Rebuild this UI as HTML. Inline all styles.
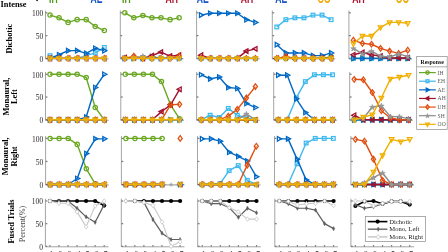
<!DOCTYPE html>
<html><head><meta charset="utf-8"><style>
html,body{margin:0;padding:0;background:#fff;}
body{width:448px;height:252px;overflow:hidden;}
svg{display:block;}
text{font-family:"Liberation Serif","Times New Roman",serif;}
.tk{font-size:7.5px;fill:#2a2a2a;}
.ttl{font-size:8.6px;font-weight:bold;font-family:"Liberation Sans",Arial,sans-serif;}
.rl{font-size:8.4px;font-weight:bold;fill:#000;}
.yl{font-size:8.1px;fill:#444;}
.lt{font-size:5.8px;font-weight:bold;fill:#111;}
.lg{font-size:5.6px;fill:#5a5a5a;}
.l2{font-size:6.6px;fill:#222;}
</style></head><body>
<svg width="448" height="252" viewBox="0 0 448 252">
<path d="M45.5 10.5V58.9H108.7" fill="none" stroke="#9a9a9a" stroke-width="0.9"/>
<path d="M45.5 58.4H47.4" stroke="#808080" stroke-width="1.3"/>
<path d="M45.5 35.6H47.4" stroke="#808080" stroke-width="1.3"/>
<path d="M45.5 12.8H47.4" stroke="#808080" stroke-width="1.3"/>
<text x="43.2" y="61.6" text-anchor="end" class="tk">0</text>
<text x="43.2" y="38.8" text-anchor="end" class="tk">50</text>
<text x="43.2" y="16" text-anchor="end" class="tk">100</text>
<polyline points="50,15.08 59.05,17.82 68.1,22.38 77.15,19.64 86.2,19.64 95.25,26.48 104.3,30.58" fill="none" stroke="#6aa823" stroke-width="1.4" stroke-linejoin="round"/>
<circle cx="50" cy="15.08" r="2.15" fill="none" stroke="#6aa823" stroke-width="1.25"/>
<circle cx="59.05" cy="17.82" r="2.15" fill="none" stroke="#6aa823" stroke-width="1.25"/>
<circle cx="68.1" cy="22.38" r="2.15" fill="none" stroke="#6aa823" stroke-width="1.25"/>
<circle cx="77.15" cy="19.64" r="2.15" fill="none" stroke="#6aa823" stroke-width="1.25"/>
<circle cx="86.2" cy="19.64" r="2.15" fill="none" stroke="#6aa823" stroke-width="1.25"/>
<circle cx="95.25" cy="26.48" r="2.15" fill="none" stroke="#6aa823" stroke-width="1.25"/>
<circle cx="104.3" cy="30.58" r="2.15" fill="none" stroke="#6aa823" stroke-width="1.25"/>
<polyline points="50,55.66 59.05,58.4 68.1,58.4 77.15,58.4 86.2,55.66 95.25,52.93 104.3,47.46" fill="none" stroke="#3fb9ee" stroke-width="1.4" stroke-linejoin="round"/>
<rect x="48.15" y="53.81" width="3.7" height="3.7" fill="none" stroke="#3fb9ee" stroke-width="1.25"/>
<rect x="57.2" y="56.55" width="3.7" height="3.7" fill="none" stroke="#3fb9ee" stroke-width="1.25"/>
<rect x="66.25" y="56.55" width="3.7" height="3.7" fill="none" stroke="#3fb9ee" stroke-width="1.25"/>
<rect x="75.3" y="56.55" width="3.7" height="3.7" fill="none" stroke="#3fb9ee" stroke-width="1.25"/>
<rect x="84.35" y="53.81" width="3.7" height="3.7" fill="none" stroke="#3fb9ee" stroke-width="1.25"/>
<rect x="93.4" y="51.08" width="3.7" height="3.7" fill="none" stroke="#3fb9ee" stroke-width="1.25"/>
<rect x="102.45" y="45.61" width="3.7" height="3.7" fill="none" stroke="#3fb9ee" stroke-width="1.25"/>
<polyline points="50,58.4 59.05,54.75 68.1,50.65 77.15,50.65 86.2,53.38 95.25,48.37 104.3,50.65" fill="none" stroke="#0068c4" stroke-width="1.4" stroke-linejoin="round"/>
<polygon points="48.4,56.1 52.6,58.4 48.4,60.7" fill="none" stroke="#0068c4" stroke-width="1.25"/>
<polygon points="57.45,52.45 61.65,54.75 57.45,57.05" fill="none" stroke="#0068c4" stroke-width="1.25"/>
<polygon points="66.5,48.35 70.7,50.65 66.5,52.95" fill="none" stroke="#0068c4" stroke-width="1.25"/>
<polygon points="75.55,48.35 79.75,50.65 75.55,52.95" fill="none" stroke="#0068c4" stroke-width="1.25"/>
<polygon points="84.6,51.08 88.8,53.38 84.6,55.68" fill="none" stroke="#0068c4" stroke-width="1.25"/>
<polygon points="93.65,46.07 97.85,48.37 93.65,50.67" fill="none" stroke="#0068c4" stroke-width="1.25"/>
<polygon points="102.7,48.35 106.9,50.65 102.7,52.95" fill="none" stroke="#0068c4" stroke-width="1.25"/>
<polyline points="50,58.4 59.05,58.4 68.1,58.4 77.15,58.4 86.2,58.4 95.25,58.4 104.3,58.4" fill="none" stroke="#a20f2c" stroke-width="1.4" stroke-linejoin="round"/>
<polygon points="51.6,56.1 47.4,58.4 51.6,60.7" fill="none" stroke="#a20f2c" stroke-width="1.25"/>
<polygon points="60.65,56.1 56.45,58.4 60.65,60.7" fill="none" stroke="#a20f2c" stroke-width="1.25"/>
<polygon points="69.7,56.1 65.5,58.4 69.7,60.7" fill="none" stroke="#a20f2c" stroke-width="1.25"/>
<polygon points="78.75,56.1 74.55,58.4 78.75,60.7" fill="none" stroke="#a20f2c" stroke-width="1.25"/>
<polygon points="87.8,56.1 83.6,58.4 87.8,60.7" fill="none" stroke="#a20f2c" stroke-width="1.25"/>
<polygon points="96.85,56.1 92.65,58.4 96.85,60.7" fill="none" stroke="#a20f2c" stroke-width="1.25"/>
<polygon points="105.9,56.1 101.7,58.4 105.9,60.7" fill="none" stroke="#a20f2c" stroke-width="1.25"/>
<polyline points="50,58.4 59.05,58.4 68.1,58.4 77.15,58.4 86.2,58.4 95.25,58.4 104.3,58.4" fill="none" stroke="#e04f10" stroke-width="1.4" stroke-linejoin="round"/>
<polygon points="50,55.6 52.1,58.4 50,61.2 47.9,58.4" fill="none" stroke="#e04f10" stroke-width="1.25"/>
<polygon points="59.05,55.6 61.15,58.4 59.05,61.2 56.95,58.4" fill="none" stroke="#e04f10" stroke-width="1.25"/>
<polygon points="68.1,55.6 70.2,58.4 68.1,61.2 66,58.4" fill="none" stroke="#e04f10" stroke-width="1.25"/>
<polygon points="77.15,55.6 79.25,58.4 77.15,61.2 75.05,58.4" fill="none" stroke="#e04f10" stroke-width="1.25"/>
<polygon points="86.2,55.6 88.3,58.4 86.2,61.2 84.1,58.4" fill="none" stroke="#e04f10" stroke-width="1.25"/>
<polygon points="95.25,55.6 97.35,58.4 95.25,61.2 93.15,58.4" fill="none" stroke="#e04f10" stroke-width="1.25"/>
<polygon points="104.3,55.6 106.4,58.4 104.3,61.2 102.2,58.4" fill="none" stroke="#e04f10" stroke-width="1.25"/>
<polyline points="50,58.4 59.05,58.4 68.1,58.4 77.15,58.4 86.2,58.4 95.25,58.4 104.3,58.4" fill="none" stroke="#8c8c8c" stroke-width="1.4" stroke-linejoin="round"/>
<polygon points="50,55.8 50.73,57.69 52.76,57.8 51.19,59.09 51.7,61.05 50,59.95 48.3,61.05 48.81,59.09 47.24,57.8 49.27,57.69" fill="#9a9a9a" stroke="#8c8c8c" stroke-width="0.5"/>
<polygon points="59.05,55.8 59.78,57.69 61.81,57.8 60.24,59.09 60.75,61.05 59.05,59.95 57.35,61.05 57.86,59.09 56.29,57.8 58.32,57.69" fill="#9a9a9a" stroke="#8c8c8c" stroke-width="0.5"/>
<polygon points="68.1,55.8 68.83,57.69 70.86,57.8 69.29,59.09 69.8,61.05 68.1,59.95 66.4,61.05 66.91,59.09 65.34,57.8 67.37,57.69" fill="#9a9a9a" stroke="#8c8c8c" stroke-width="0.5"/>
<polygon points="77.15,55.8 77.88,57.69 79.91,57.8 78.34,59.09 78.85,61.05 77.15,59.95 75.45,61.05 75.96,59.09 74.39,57.8 76.42,57.69" fill="#9a9a9a" stroke="#8c8c8c" stroke-width="0.5"/>
<polygon points="86.2,55.8 86.93,57.69 88.96,57.8 87.39,59.09 87.9,61.05 86.2,59.95 84.5,61.05 85.01,59.09 83.44,57.8 85.47,57.69" fill="#9a9a9a" stroke="#8c8c8c" stroke-width="0.5"/>
<polygon points="95.25,55.8 95.98,57.69 98.01,57.8 96.44,59.09 96.95,61.05 95.25,59.95 93.55,61.05 94.06,59.09 92.49,57.8 94.52,57.69" fill="#9a9a9a" stroke="#8c8c8c" stroke-width="0.5"/>
<polygon points="104.3,55.8 105.03,57.69 107.06,57.8 105.49,59.09 106,61.05 104.3,59.95 102.6,61.05 103.11,59.09 101.54,57.8 103.57,57.69" fill="#9a9a9a" stroke="#8c8c8c" stroke-width="0.5"/>
<polyline points="50,58.4 59.05,58.4 68.1,58.4 77.15,58.4 86.2,58.4 95.25,58.4 104.3,58.4" fill="none" stroke="#f0b000" stroke-width="1.4" stroke-linejoin="round"/>
<polygon points="47.7,56.8 52.3,56.8 50,61" fill="none" stroke="#f0b000" stroke-width="1.25"/>
<polygon points="56.75,56.8 61.35,56.8 59.05,61" fill="none" stroke="#f0b000" stroke-width="1.25"/>
<polygon points="65.8,56.8 70.4,56.8 68.1,61" fill="none" stroke="#f0b000" stroke-width="1.25"/>
<polygon points="74.85,56.8 79.45,56.8 77.15,61" fill="none" stroke="#f0b000" stroke-width="1.25"/>
<polygon points="83.9,56.8 88.5,56.8 86.2,61" fill="none" stroke="#f0b000" stroke-width="1.25"/>
<polygon points="92.95,56.8 97.55,56.8 95.25,61" fill="none" stroke="#f0b000" stroke-width="1.25"/>
<polygon points="102,56.8 106.6,56.8 104.3,61" fill="none" stroke="#f0b000" stroke-width="1.25"/>
<path d="M120.3 10.5V58.9H183.5" fill="none" stroke="#9a9a9a" stroke-width="0.9"/>
<path d="M120.3 58.4H122.2" stroke="#808080" stroke-width="1.3"/>
<path d="M120.3 35.6H122.2" stroke="#808080" stroke-width="1.3"/>
<path d="M120.3 12.8H122.2" stroke="#808080" stroke-width="1.3"/>
<polyline points="124.8,12.8 133.85,17.82 142.9,15.54 151.95,17.82 161,17.82 170.05,19.64 179.1,17.82" fill="none" stroke="#6aa823" stroke-width="1.4" stroke-linejoin="round"/>
<circle cx="124.8" cy="12.8" r="2.15" fill="none" stroke="#6aa823" stroke-width="1.25"/>
<circle cx="133.85" cy="17.82" r="2.15" fill="none" stroke="#6aa823" stroke-width="1.25"/>
<circle cx="142.9" cy="15.54" r="2.15" fill="none" stroke="#6aa823" stroke-width="1.25"/>
<circle cx="151.95" cy="17.82" r="2.15" fill="none" stroke="#6aa823" stroke-width="1.25"/>
<circle cx="161" cy="17.82" r="2.15" fill="none" stroke="#6aa823" stroke-width="1.25"/>
<circle cx="170.05" cy="19.64" r="2.15" fill="none" stroke="#6aa823" stroke-width="1.25"/>
<circle cx="179.1" cy="17.82" r="2.15" fill="none" stroke="#6aa823" stroke-width="1.25"/>
<polyline points="124.8,58.4 133.85,58.4 142.9,58.4 151.95,58.4 161,58.4 170.05,57.03 179.1,58.4" fill="none" stroke="#3fb9ee" stroke-width="1.4" stroke-linejoin="round"/>
<rect x="122.95" y="56.55" width="3.7" height="3.7" fill="none" stroke="#3fb9ee" stroke-width="1.25"/>
<rect x="132" y="56.55" width="3.7" height="3.7" fill="none" stroke="#3fb9ee" stroke-width="1.25"/>
<rect x="141.05" y="56.55" width="3.7" height="3.7" fill="none" stroke="#3fb9ee" stroke-width="1.25"/>
<rect x="150.1" y="56.55" width="3.7" height="3.7" fill="none" stroke="#3fb9ee" stroke-width="1.25"/>
<rect x="159.15" y="56.55" width="3.7" height="3.7" fill="none" stroke="#3fb9ee" stroke-width="1.25"/>
<rect x="168.2" y="55.18" width="3.7" height="3.7" fill="none" stroke="#3fb9ee" stroke-width="1.25"/>
<rect x="177.25" y="56.55" width="3.7" height="3.7" fill="none" stroke="#3fb9ee" stroke-width="1.25"/>
<polyline points="124.8,58.4 133.85,58.4 142.9,58.4 151.95,56.58 161,58.4 170.05,58.4 179.1,58.4" fill="none" stroke="#0068c4" stroke-width="1.4" stroke-linejoin="round"/>
<polygon points="123.2,56.1 127.4,58.4 123.2,60.7" fill="none" stroke="#0068c4" stroke-width="1.25"/>
<polygon points="132.25,56.1 136.45,58.4 132.25,60.7" fill="none" stroke="#0068c4" stroke-width="1.25"/>
<polygon points="141.3,56.1 145.5,58.4 141.3,60.7" fill="none" stroke="#0068c4" stroke-width="1.25"/>
<polygon points="150.35,54.28 154.55,56.58 150.35,58.88" fill="none" stroke="#0068c4" stroke-width="1.25"/>
<polygon points="159.4,56.1 163.6,58.4 159.4,60.7" fill="none" stroke="#0068c4" stroke-width="1.25"/>
<polygon points="168.45,56.1 172.65,58.4 168.45,60.7" fill="none" stroke="#0068c4" stroke-width="1.25"/>
<polygon points="177.5,56.1 181.7,58.4 177.5,60.7" fill="none" stroke="#0068c4" stroke-width="1.25"/>
<polyline points="124.8,57.49 133.85,57.94 142.9,58.4 151.95,55.66 161,52.02 170.05,56.12 179.1,55.21" fill="none" stroke="#a20f2c" stroke-width="1.4" stroke-linejoin="round"/>
<polygon points="126.4,55.19 122.2,57.49 126.4,59.79" fill="none" stroke="#a20f2c" stroke-width="1.25"/>
<polygon points="135.45,55.64 131.25,57.94 135.45,60.24" fill="none" stroke="#a20f2c" stroke-width="1.25"/>
<polygon points="144.5,56.1 140.3,58.4 144.5,60.7" fill="none" stroke="#a20f2c" stroke-width="1.25"/>
<polygon points="153.55,53.36 149.35,55.66 153.55,57.96" fill="none" stroke="#a20f2c" stroke-width="1.25"/>
<polygon points="162.6,49.72 158.4,52.02 162.6,54.32" fill="none" stroke="#a20f2c" stroke-width="1.25"/>
<polygon points="171.65,53.82 167.45,56.12 171.65,58.42" fill="none" stroke="#a20f2c" stroke-width="1.25"/>
<polygon points="180.7,52.91 176.5,55.21 180.7,57.51" fill="none" stroke="#a20f2c" stroke-width="1.25"/>
<polyline points="124.8,58.4 133.85,56.12 142.9,58.4 151.95,58.4 161,58.4 170.05,58.4 179.1,56.12" fill="none" stroke="#e04f10" stroke-width="1.4" stroke-linejoin="round"/>
<polygon points="124.8,55.6 126.9,58.4 124.8,61.2 122.7,58.4" fill="none" stroke="#e04f10" stroke-width="1.25"/>
<polygon points="133.85,53.32 135.95,56.12 133.85,58.92 131.75,56.12" fill="none" stroke="#e04f10" stroke-width="1.25"/>
<polygon points="142.9,55.6 145,58.4 142.9,61.2 140.8,58.4" fill="none" stroke="#e04f10" stroke-width="1.25"/>
<polygon points="151.95,55.6 154.05,58.4 151.95,61.2 149.85,58.4" fill="none" stroke="#e04f10" stroke-width="1.25"/>
<polygon points="161,55.6 163.1,58.4 161,61.2 158.9,58.4" fill="none" stroke="#e04f10" stroke-width="1.25"/>
<polygon points="170.05,55.6 172.15,58.4 170.05,61.2 167.95,58.4" fill="none" stroke="#e04f10" stroke-width="1.25"/>
<polygon points="179.1,53.32 181.2,56.12 179.1,58.92 177,56.12" fill="none" stroke="#e04f10" stroke-width="1.25"/>
<polyline points="124.8,58.4 133.85,58.4 142.9,56.12 151.95,58.4 161,58.4 170.05,58.4 179.1,58.4" fill="none" stroke="#8c8c8c" stroke-width="1.4" stroke-linejoin="round"/>
<polygon points="124.8,55.8 125.53,57.69 127.56,57.8 125.99,59.09 126.5,61.05 124.8,59.95 123.1,61.05 123.61,59.09 122.04,57.8 124.07,57.69" fill="#9a9a9a" stroke="#8c8c8c" stroke-width="0.5"/>
<polygon points="133.85,55.8 134.58,57.69 136.61,57.8 135.04,59.09 135.55,61.05 133.85,59.95 132.15,61.05 132.66,59.09 131.09,57.8 133.12,57.69" fill="#9a9a9a" stroke="#8c8c8c" stroke-width="0.5"/>
<polygon points="142.9,53.52 143.63,55.41 145.66,55.52 144.09,56.81 144.6,58.77 142.9,57.67 141.2,58.77 141.71,56.81 140.14,55.52 142.17,55.41" fill="#9a9a9a" stroke="#8c8c8c" stroke-width="0.5"/>
<polygon points="151.95,55.8 152.68,57.69 154.71,57.8 153.14,59.09 153.65,61.05 151.95,59.95 150.25,61.05 150.76,59.09 149.19,57.8 151.22,57.69" fill="#9a9a9a" stroke="#8c8c8c" stroke-width="0.5"/>
<polygon points="161,55.8 161.73,57.69 163.76,57.8 162.19,59.09 162.7,61.05 161,59.95 159.3,61.05 159.81,59.09 158.24,57.8 160.27,57.69" fill="#9a9a9a" stroke="#8c8c8c" stroke-width="0.5"/>
<polygon points="170.05,55.8 170.78,57.69 172.81,57.8 171.24,59.09 171.75,61.05 170.05,59.95 168.35,61.05 168.86,59.09 167.29,57.8 169.32,57.69" fill="#9a9a9a" stroke="#8c8c8c" stroke-width="0.5"/>
<polygon points="179.1,55.8 179.83,57.69 181.86,57.8 180.29,59.09 180.8,61.05 179.1,59.95 177.4,61.05 177.91,59.09 176.34,57.8 178.37,57.69" fill="#9a9a9a" stroke="#8c8c8c" stroke-width="0.5"/>
<polyline points="124.8,58.4 133.85,58.4 142.9,58.4 151.95,58.4 161,58.4 170.05,58.4 179.1,58.4" fill="none" stroke="#f0b000" stroke-width="1.4" stroke-linejoin="round"/>
<polygon points="122.5,56.8 127.1,56.8 124.8,61" fill="none" stroke="#f0b000" stroke-width="1.25"/>
<polygon points="131.55,56.8 136.15,56.8 133.85,61" fill="none" stroke="#f0b000" stroke-width="1.25"/>
<polygon points="140.6,56.8 145.2,56.8 142.9,61" fill="none" stroke="#f0b000" stroke-width="1.25"/>
<polygon points="149.65,56.8 154.25,56.8 151.95,61" fill="none" stroke="#f0b000" stroke-width="1.25"/>
<polygon points="158.7,56.8 163.3,56.8 161,61" fill="none" stroke="#f0b000" stroke-width="1.25"/>
<polygon points="167.75,56.8 172.35,56.8 170.05,61" fill="none" stroke="#f0b000" stroke-width="1.25"/>
<polygon points="176.8,56.8 181.4,56.8 179.1,61" fill="none" stroke="#f0b000" stroke-width="1.25"/>
<path d="M196.6 10.5V58.9H259.8" fill="none" stroke="#9a9a9a" stroke-width="0.9"/>
<path d="M196.6 58.4H198.5" stroke="#808080" stroke-width="1.3"/>
<path d="M196.6 35.6H198.5" stroke="#808080" stroke-width="1.3"/>
<path d="M196.6 12.8H198.5" stroke="#808080" stroke-width="1.3"/>
<polyline points="201.1,58.4 210.15,58.4 219.2,58.4 228.25,58.4 237.3,58.4 246.35,58.4 255.4,58.4" fill="none" stroke="#6aa823" stroke-width="1.4" stroke-linejoin="round"/>
<circle cx="201.1" cy="58.4" r="2.15" fill="none" stroke="#6aa823" stroke-width="1.25"/>
<circle cx="210.15" cy="58.4" r="2.15" fill="none" stroke="#6aa823" stroke-width="1.25"/>
<circle cx="219.2" cy="58.4" r="2.15" fill="none" stroke="#6aa823" stroke-width="1.25"/>
<circle cx="228.25" cy="58.4" r="2.15" fill="none" stroke="#6aa823" stroke-width="1.25"/>
<circle cx="237.3" cy="58.4" r="2.15" fill="none" stroke="#6aa823" stroke-width="1.25"/>
<circle cx="246.35" cy="58.4" r="2.15" fill="none" stroke="#6aa823" stroke-width="1.25"/>
<circle cx="255.4" cy="58.4" r="2.15" fill="none" stroke="#6aa823" stroke-width="1.25"/>
<polyline points="201.1,58.4 210.15,58.4 219.2,58.4 228.25,58.4 237.3,58.4 246.35,58.4 255.4,58.4" fill="none" stroke="#3fb9ee" stroke-width="1.4" stroke-linejoin="round"/>
<rect x="199.25" y="56.55" width="3.7" height="3.7" fill="none" stroke="#3fb9ee" stroke-width="1.25"/>
<rect x="208.3" y="56.55" width="3.7" height="3.7" fill="none" stroke="#3fb9ee" stroke-width="1.25"/>
<rect x="217.35" y="56.55" width="3.7" height="3.7" fill="none" stroke="#3fb9ee" stroke-width="1.25"/>
<rect x="226.4" y="56.55" width="3.7" height="3.7" fill="none" stroke="#3fb9ee" stroke-width="1.25"/>
<rect x="235.45" y="56.55" width="3.7" height="3.7" fill="none" stroke="#3fb9ee" stroke-width="1.25"/>
<rect x="244.5" y="56.55" width="3.7" height="3.7" fill="none" stroke="#3fb9ee" stroke-width="1.25"/>
<rect x="253.55" y="56.55" width="3.7" height="3.7" fill="none" stroke="#3fb9ee" stroke-width="1.25"/>
<polyline points="201.1,15.08 210.15,13.26 219.2,13.26 228.25,13.26 237.3,13.26 246.35,19.64 255.4,22.38" fill="none" stroke="#0068c4" stroke-width="1.4" stroke-linejoin="round"/>
<polygon points="199.5,12.78 203.7,15.08 199.5,17.38" fill="none" stroke="#0068c4" stroke-width="1.25"/>
<polygon points="208.55,10.96 212.75,13.26 208.55,15.56" fill="none" stroke="#0068c4" stroke-width="1.25"/>
<polygon points="217.6,10.96 221.8,13.26 217.6,15.56" fill="none" stroke="#0068c4" stroke-width="1.25"/>
<polygon points="226.65,10.96 230.85,13.26 226.65,15.56" fill="none" stroke="#0068c4" stroke-width="1.25"/>
<polygon points="235.7,10.96 239.9,13.26 235.7,15.56" fill="none" stroke="#0068c4" stroke-width="1.25"/>
<polygon points="244.75,17.34 248.95,19.64 244.75,21.94" fill="none" stroke="#0068c4" stroke-width="1.25"/>
<polygon points="253.8,20.08 258,22.38 253.8,24.68" fill="none" stroke="#0068c4" stroke-width="1.25"/>
<polyline points="201.1,55.21 210.15,58.4 219.2,58.4 228.25,58.4 237.3,58.4 246.35,51.1 255.4,48.82" fill="none" stroke="#a20f2c" stroke-width="1.4" stroke-linejoin="round"/>
<polygon points="202.7,52.91 198.5,55.21 202.7,57.51" fill="none" stroke="#a20f2c" stroke-width="1.25"/>
<polygon points="211.75,56.1 207.55,58.4 211.75,60.7" fill="none" stroke="#a20f2c" stroke-width="1.25"/>
<polygon points="220.8,56.1 216.6,58.4 220.8,60.7" fill="none" stroke="#a20f2c" stroke-width="1.25"/>
<polygon points="229.85,56.1 225.65,58.4 229.85,60.7" fill="none" stroke="#a20f2c" stroke-width="1.25"/>
<polygon points="238.9,56.1 234.7,58.4 238.9,60.7" fill="none" stroke="#a20f2c" stroke-width="1.25"/>
<polygon points="247.95,48.8 243.75,51.1 247.95,53.4" fill="none" stroke="#a20f2c" stroke-width="1.25"/>
<polygon points="257,46.52 252.8,48.82 257,51.12" fill="none" stroke="#a20f2c" stroke-width="1.25"/>
<polyline points="201.1,58.4 210.15,58.4 219.2,58.4 228.25,58.4 237.3,58.4 246.35,58.4 255.4,58.4" fill="none" stroke="#e04f10" stroke-width="1.4" stroke-linejoin="round"/>
<polygon points="201.1,55.6 203.2,58.4 201.1,61.2 199,58.4" fill="none" stroke="#e04f10" stroke-width="1.25"/>
<polygon points="210.15,55.6 212.25,58.4 210.15,61.2 208.05,58.4" fill="none" stroke="#e04f10" stroke-width="1.25"/>
<polygon points="219.2,55.6 221.3,58.4 219.2,61.2 217.1,58.4" fill="none" stroke="#e04f10" stroke-width="1.25"/>
<polygon points="228.25,55.6 230.35,58.4 228.25,61.2 226.15,58.4" fill="none" stroke="#e04f10" stroke-width="1.25"/>
<polygon points="237.3,55.6 239.4,58.4 237.3,61.2 235.2,58.4" fill="none" stroke="#e04f10" stroke-width="1.25"/>
<polygon points="246.35,55.6 248.45,58.4 246.35,61.2 244.25,58.4" fill="none" stroke="#e04f10" stroke-width="1.25"/>
<polygon points="255.4,55.6 257.5,58.4 255.4,61.2 253.3,58.4" fill="none" stroke="#e04f10" stroke-width="1.25"/>
<polyline points="201.1,58.4 210.15,58.4 219.2,58.4 228.25,58.4 237.3,58.4 246.35,58.4 255.4,58.4" fill="none" stroke="#8c8c8c" stroke-width="1.4" stroke-linejoin="round"/>
<polygon points="201.1,55.8 201.83,57.69 203.86,57.8 202.29,59.09 202.8,61.05 201.1,59.95 199.4,61.05 199.91,59.09 198.34,57.8 200.37,57.69" fill="#9a9a9a" stroke="#8c8c8c" stroke-width="0.5"/>
<polygon points="210.15,55.8 210.88,57.69 212.91,57.8 211.34,59.09 211.85,61.05 210.15,59.95 208.45,61.05 208.96,59.09 207.39,57.8 209.42,57.69" fill="#9a9a9a" stroke="#8c8c8c" stroke-width="0.5"/>
<polygon points="219.2,55.8 219.93,57.69 221.96,57.8 220.39,59.09 220.9,61.05 219.2,59.95 217.5,61.05 218.01,59.09 216.44,57.8 218.47,57.69" fill="#9a9a9a" stroke="#8c8c8c" stroke-width="0.5"/>
<polygon points="228.25,55.8 228.98,57.69 231.01,57.8 229.44,59.09 229.95,61.05 228.25,59.95 226.55,61.05 227.06,59.09 225.49,57.8 227.52,57.69" fill="#9a9a9a" stroke="#8c8c8c" stroke-width="0.5"/>
<polygon points="237.3,55.8 238.03,57.69 240.06,57.8 238.49,59.09 239,61.05 237.3,59.95 235.6,61.05 236.11,59.09 234.54,57.8 236.57,57.69" fill="#9a9a9a" stroke="#8c8c8c" stroke-width="0.5"/>
<polygon points="246.35,55.8 247.08,57.69 249.11,57.8 247.54,59.09 248.05,61.05 246.35,59.95 244.65,61.05 245.16,59.09 243.59,57.8 245.62,57.69" fill="#9a9a9a" stroke="#8c8c8c" stroke-width="0.5"/>
<polygon points="255.4,55.8 256.13,57.69 258.16,57.8 256.59,59.09 257.1,61.05 255.4,59.95 253.7,61.05 254.21,59.09 252.64,57.8 254.67,57.69" fill="#9a9a9a" stroke="#8c8c8c" stroke-width="0.5"/>
<polyline points="201.1,58.4 210.15,58.4 219.2,58.4 228.25,58.4 237.3,58.4 246.35,58.4 255.4,58.4" fill="none" stroke="#f0b000" stroke-width="1.4" stroke-linejoin="round"/>
<polygon points="198.8,56.8 203.4,56.8 201.1,61" fill="none" stroke="#f0b000" stroke-width="1.25"/>
<polygon points="207.85,56.8 212.45,56.8 210.15,61" fill="none" stroke="#f0b000" stroke-width="1.25"/>
<polygon points="216.9,56.8 221.5,56.8 219.2,61" fill="none" stroke="#f0b000" stroke-width="1.25"/>
<polygon points="225.95,56.8 230.55,56.8 228.25,61" fill="none" stroke="#f0b000" stroke-width="1.25"/>
<polygon points="235,56.8 239.6,56.8 237.3,61" fill="none" stroke="#f0b000" stroke-width="1.25"/>
<polygon points="244.05,56.8 248.65,56.8 246.35,61" fill="none" stroke="#f0b000" stroke-width="1.25"/>
<polygon points="253.1,56.8 257.7,56.8 255.4,61" fill="none" stroke="#f0b000" stroke-width="1.25"/>
<path d="M272.3 10.5V58.9H335.5" fill="none" stroke="#9a9a9a" stroke-width="0.9"/>
<path d="M272.3 58.4H274.2" stroke="#808080" stroke-width="1.3"/>
<path d="M272.3 35.6H274.2" stroke="#808080" stroke-width="1.3"/>
<path d="M272.3 12.8H274.2" stroke="#808080" stroke-width="1.3"/>
<polyline points="276.8,58.4 285.85,58.4 294.9,58.4 303.95,58.4 313,58.4 322.05,58.4 331.1,56.58" fill="none" stroke="#6aa823" stroke-width="1.4" stroke-linejoin="round"/>
<circle cx="276.8" cy="58.4" r="2.15" fill="none" stroke="#6aa823" stroke-width="1.25"/>
<circle cx="285.85" cy="58.4" r="2.15" fill="none" stroke="#6aa823" stroke-width="1.25"/>
<circle cx="294.9" cy="58.4" r="2.15" fill="none" stroke="#6aa823" stroke-width="1.25"/>
<circle cx="303.95" cy="58.4" r="2.15" fill="none" stroke="#6aa823" stroke-width="1.25"/>
<circle cx="313" cy="58.4" r="2.15" fill="none" stroke="#6aa823" stroke-width="1.25"/>
<circle cx="322.05" cy="58.4" r="2.15" fill="none" stroke="#6aa823" stroke-width="1.25"/>
<circle cx="331.1" cy="56.58" r="2.15" fill="none" stroke="#6aa823" stroke-width="1.25"/>
<polyline points="276.8,26.94 285.85,19.64 294.9,17.82 303.95,17.82 313,15.08 322.05,15.08 331.1,19.64" fill="none" stroke="#3fb9ee" stroke-width="1.4" stroke-linejoin="round"/>
<rect x="274.95" y="25.09" width="3.7" height="3.7" fill="none" stroke="#3fb9ee" stroke-width="1.25"/>
<rect x="284" y="17.79" width="3.7" height="3.7" fill="none" stroke="#3fb9ee" stroke-width="1.25"/>
<rect x="293.05" y="15.97" width="3.7" height="3.7" fill="none" stroke="#3fb9ee" stroke-width="1.25"/>
<rect x="302.1" y="15.97" width="3.7" height="3.7" fill="none" stroke="#3fb9ee" stroke-width="1.25"/>
<rect x="311.15" y="13.23" width="3.7" height="3.7" fill="none" stroke="#3fb9ee" stroke-width="1.25"/>
<rect x="320.2" y="13.23" width="3.7" height="3.7" fill="none" stroke="#3fb9ee" stroke-width="1.25"/>
<rect x="329.25" y="17.79" width="3.7" height="3.7" fill="none" stroke="#3fb9ee" stroke-width="1.25"/>
<polyline points="276.8,44.72 285.85,52.93 294.9,52.93 303.95,52.93 313,55.66 322.05,55.66 331.1,52.93" fill="none" stroke="#0068c4" stroke-width="1.4" stroke-linejoin="round"/>
<polygon points="275.2,42.42 279.4,44.72 275.2,47.02" fill="none" stroke="#0068c4" stroke-width="1.25"/>
<polygon points="284.25,50.63 288.45,52.93 284.25,55.23" fill="none" stroke="#0068c4" stroke-width="1.25"/>
<polygon points="293.3,50.63 297.5,52.93 293.3,55.23" fill="none" stroke="#0068c4" stroke-width="1.25"/>
<polygon points="302.35,50.63 306.55,52.93 302.35,55.23" fill="none" stroke="#0068c4" stroke-width="1.25"/>
<polygon points="311.4,53.36 315.6,55.66 311.4,57.96" fill="none" stroke="#0068c4" stroke-width="1.25"/>
<polygon points="320.45,53.36 324.65,55.66 320.45,57.96" fill="none" stroke="#0068c4" stroke-width="1.25"/>
<polygon points="329.5,50.63 333.7,52.93 329.5,55.23" fill="none" stroke="#0068c4" stroke-width="1.25"/>
<polyline points="276.8,58.4 285.85,57.03 294.9,58.4 303.95,58.4 313,58.4 322.05,58.4 331.1,58.4" fill="none" stroke="#a20f2c" stroke-width="1.4" stroke-linejoin="round"/>
<polygon points="278.4,56.1 274.2,58.4 278.4,60.7" fill="none" stroke="#a20f2c" stroke-width="1.25"/>
<polygon points="287.45,54.73 283.25,57.03 287.45,59.33" fill="none" stroke="#a20f2c" stroke-width="1.25"/>
<polygon points="296.5,56.1 292.3,58.4 296.5,60.7" fill="none" stroke="#a20f2c" stroke-width="1.25"/>
<polygon points="305.55,56.1 301.35,58.4 305.55,60.7" fill="none" stroke="#a20f2c" stroke-width="1.25"/>
<polygon points="314.6,56.1 310.4,58.4 314.6,60.7" fill="none" stroke="#a20f2c" stroke-width="1.25"/>
<polygon points="323.65,56.1 319.45,58.4 323.65,60.7" fill="none" stroke="#a20f2c" stroke-width="1.25"/>
<polygon points="332.7,56.1 328.5,58.4 332.7,60.7" fill="none" stroke="#a20f2c" stroke-width="1.25"/>
<polyline points="276.8,58.4 285.85,56.58 294.9,58.4 303.95,58.4 313,58.4 322.05,58.4 331.1,58.4" fill="none" stroke="#e04f10" stroke-width="1.4" stroke-linejoin="round"/>
<polygon points="276.8,55.6 278.9,58.4 276.8,61.2 274.7,58.4" fill="none" stroke="#e04f10" stroke-width="1.25"/>
<polygon points="285.85,53.78 287.95,56.58 285.85,59.38 283.75,56.58" fill="none" stroke="#e04f10" stroke-width="1.25"/>
<polygon points="294.9,55.6 297,58.4 294.9,61.2 292.8,58.4" fill="none" stroke="#e04f10" stroke-width="1.25"/>
<polygon points="303.95,55.6 306.05,58.4 303.95,61.2 301.85,58.4" fill="none" stroke="#e04f10" stroke-width="1.25"/>
<polygon points="313,55.6 315.1,58.4 313,61.2 310.9,58.4" fill="none" stroke="#e04f10" stroke-width="1.25"/>
<polygon points="322.05,55.6 324.15,58.4 322.05,61.2 319.95,58.4" fill="none" stroke="#e04f10" stroke-width="1.25"/>
<polygon points="331.1,55.6 333.2,58.4 331.1,61.2 329,58.4" fill="none" stroke="#e04f10" stroke-width="1.25"/>
<polyline points="276.8,58.4 285.85,58.4 294.9,58.4 303.95,58.4 313,58.4 322.05,58.4 331.1,58.4" fill="none" stroke="#8c8c8c" stroke-width="1.4" stroke-linejoin="round"/>
<polygon points="276.8,55.8 277.53,57.69 279.56,57.8 277.99,59.09 278.5,61.05 276.8,59.95 275.1,61.05 275.61,59.09 274.04,57.8 276.07,57.69" fill="#9a9a9a" stroke="#8c8c8c" stroke-width="0.5"/>
<polygon points="285.85,55.8 286.58,57.69 288.61,57.8 287.04,59.09 287.55,61.05 285.85,59.95 284.15,61.05 284.66,59.09 283.09,57.8 285.12,57.69" fill="#9a9a9a" stroke="#8c8c8c" stroke-width="0.5"/>
<polygon points="294.9,55.8 295.63,57.69 297.66,57.8 296.09,59.09 296.6,61.05 294.9,59.95 293.2,61.05 293.71,59.09 292.14,57.8 294.17,57.69" fill="#9a9a9a" stroke="#8c8c8c" stroke-width="0.5"/>
<polygon points="303.95,55.8 304.68,57.69 306.71,57.8 305.14,59.09 305.65,61.05 303.95,59.95 302.25,61.05 302.76,59.09 301.19,57.8 303.22,57.69" fill="#9a9a9a" stroke="#8c8c8c" stroke-width="0.5"/>
<polygon points="313,55.8 313.73,57.69 315.76,57.8 314.19,59.09 314.7,61.05 313,59.95 311.3,61.05 311.81,59.09 310.24,57.8 312.27,57.69" fill="#9a9a9a" stroke="#8c8c8c" stroke-width="0.5"/>
<polygon points="322.05,55.8 322.78,57.69 324.81,57.8 323.24,59.09 323.75,61.05 322.05,59.95 320.35,61.05 320.86,59.09 319.29,57.8 321.32,57.69" fill="#9a9a9a" stroke="#8c8c8c" stroke-width="0.5"/>
<polygon points="331.1,55.8 331.83,57.69 333.86,57.8 332.29,59.09 332.8,61.05 331.1,59.95 329.4,61.05 329.91,59.09 328.34,57.8 330.37,57.69" fill="#9a9a9a" stroke="#8c8c8c" stroke-width="0.5"/>
<polyline points="276.8,58.4 285.85,58.4 294.9,58.4 303.95,58.4 313,58.4 322.05,58.4 331.1,58.4" fill="none" stroke="#f0b000" stroke-width="1.4" stroke-linejoin="round"/>
<polygon points="274.5,56.8 279.1,56.8 276.8,61" fill="none" stroke="#f0b000" stroke-width="1.25"/>
<polygon points="283.55,56.8 288.15,56.8 285.85,61" fill="none" stroke="#f0b000" stroke-width="1.25"/>
<polygon points="292.6,56.8 297.2,56.8 294.9,61" fill="none" stroke="#f0b000" stroke-width="1.25"/>
<polygon points="301.65,56.8 306.25,56.8 303.95,61" fill="none" stroke="#f0b000" stroke-width="1.25"/>
<polygon points="310.7,56.8 315.3,56.8 313,61" fill="none" stroke="#f0b000" stroke-width="1.25"/>
<polygon points="319.75,56.8 324.35,56.8 322.05,61" fill="none" stroke="#f0b000" stroke-width="1.25"/>
<polygon points="328.8,56.8 333.4,56.8 331.1,61" fill="none" stroke="#f0b000" stroke-width="1.25"/>
<path d="M348.9 10.5V58.9H412.1" fill="none" stroke="#9a9a9a" stroke-width="0.9"/>
<path d="M348.9 58.4H350.8" stroke="#808080" stroke-width="1.3"/>
<path d="M348.9 35.6H350.8" stroke="#808080" stroke-width="1.3"/>
<path d="M348.9 12.8H350.8" stroke="#808080" stroke-width="1.3"/>
<polyline points="353.4,58.4 362.45,58.4 371.5,58.4 380.55,58.4 389.6,58.4 398.65,58.4 407.7,58.4" fill="none" stroke="#6aa823" stroke-width="1.4" stroke-linejoin="round"/>
<circle cx="353.4" cy="58.4" r="2.15" fill="none" stroke="#6aa823" stroke-width="1.25"/>
<circle cx="362.45" cy="58.4" r="2.15" fill="none" stroke="#6aa823" stroke-width="1.25"/>
<circle cx="371.5" cy="58.4" r="2.15" fill="none" stroke="#6aa823" stroke-width="1.25"/>
<circle cx="380.55" cy="58.4" r="2.15" fill="none" stroke="#6aa823" stroke-width="1.25"/>
<circle cx="389.6" cy="58.4" r="2.15" fill="none" stroke="#6aa823" stroke-width="1.25"/>
<circle cx="398.65" cy="58.4" r="2.15" fill="none" stroke="#6aa823" stroke-width="1.25"/>
<circle cx="407.7" cy="58.4" r="2.15" fill="none" stroke="#6aa823" stroke-width="1.25"/>
<polyline points="353.4,58.4 362.45,58.4 371.5,58.4 380.55,58.4 389.6,58.4 398.65,58.4 407.7,58.4" fill="none" stroke="#3fb9ee" stroke-width="1.4" stroke-linejoin="round"/>
<rect x="351.55" y="56.55" width="3.7" height="3.7" fill="none" stroke="#3fb9ee" stroke-width="1.25"/>
<rect x="360.6" y="56.55" width="3.7" height="3.7" fill="none" stroke="#3fb9ee" stroke-width="1.25"/>
<rect x="369.65" y="56.55" width="3.7" height="3.7" fill="none" stroke="#3fb9ee" stroke-width="1.25"/>
<rect x="378.7" y="56.55" width="3.7" height="3.7" fill="none" stroke="#3fb9ee" stroke-width="1.25"/>
<rect x="387.75" y="56.55" width="3.7" height="3.7" fill="none" stroke="#3fb9ee" stroke-width="1.25"/>
<rect x="396.8" y="56.55" width="3.7" height="3.7" fill="none" stroke="#3fb9ee" stroke-width="1.25"/>
<rect x="405.85" y="56.55" width="3.7" height="3.7" fill="none" stroke="#3fb9ee" stroke-width="1.25"/>
<polyline points="353.4,58.4 362.45,58.4 371.5,58.4 380.55,58.4 389.6,58.4 398.65,58.4 407.7,58.4" fill="none" stroke="#0068c4" stroke-width="1.4" stroke-linejoin="round"/>
<polygon points="351.8,56.1 356,58.4 351.8,60.7" fill="none" stroke="#0068c4" stroke-width="1.25"/>
<polygon points="360.85,56.1 365.05,58.4 360.85,60.7" fill="none" stroke="#0068c4" stroke-width="1.25"/>
<polygon points="369.9,56.1 374.1,58.4 369.9,60.7" fill="none" stroke="#0068c4" stroke-width="1.25"/>
<polygon points="378.95,56.1 383.15,58.4 378.95,60.7" fill="none" stroke="#0068c4" stroke-width="1.25"/>
<polygon points="388,56.1 392.2,58.4 388,60.7" fill="none" stroke="#0068c4" stroke-width="1.25"/>
<polygon points="397.05,56.1 401.25,58.4 397.05,60.7" fill="none" stroke="#0068c4" stroke-width="1.25"/>
<polygon points="406.1,56.1 410.3,58.4 406.1,60.7" fill="none" stroke="#0068c4" stroke-width="1.25"/>
<polyline points="353.4,54.75 362.45,52.47 371.5,54.75 380.55,56.12 389.6,57.94 398.65,57.94 407.7,57.94" fill="none" stroke="#a20f2c" stroke-width="1.4" stroke-linejoin="round"/>
<polygon points="355,52.45 350.8,54.75 355,57.05" fill="none" stroke="#a20f2c" stroke-width="1.25"/>
<polygon points="364.05,50.17 359.85,52.47 364.05,54.77" fill="none" stroke="#a20f2c" stroke-width="1.25"/>
<polygon points="373.1,52.45 368.9,54.75 373.1,57.05" fill="none" stroke="#a20f2c" stroke-width="1.25"/>
<polygon points="382.15,53.82 377.95,56.12 382.15,58.42" fill="none" stroke="#a20f2c" stroke-width="1.25"/>
<polygon points="391.2,55.64 387,57.94 391.2,60.24" fill="none" stroke="#a20f2c" stroke-width="1.25"/>
<polygon points="400.25,55.64 396.05,57.94 400.25,60.24" fill="none" stroke="#a20f2c" stroke-width="1.25"/>
<polygon points="409.3,55.64 405.1,57.94 409.3,60.24" fill="none" stroke="#a20f2c" stroke-width="1.25"/>
<polyline points="353.4,40.16 362.45,43.35 371.5,44.26 380.55,48.37 389.6,51.1 398.65,53.38 407.7,50.19" fill="none" stroke="#e04f10" stroke-width="1.4" stroke-linejoin="round"/>
<polygon points="353.4,37.36 355.5,40.16 353.4,42.96 351.3,40.16" fill="none" stroke="#e04f10" stroke-width="1.25"/>
<polygon points="362.45,40.55 364.55,43.35 362.45,46.15 360.35,43.35" fill="none" stroke="#e04f10" stroke-width="1.25"/>
<polygon points="371.5,41.46 373.6,44.26 371.5,47.06 369.4,44.26" fill="none" stroke="#e04f10" stroke-width="1.25"/>
<polygon points="380.55,45.57 382.65,48.37 380.55,51.17 378.45,48.37" fill="none" stroke="#e04f10" stroke-width="1.25"/>
<polygon points="389.6,48.3 391.7,51.1 389.6,53.9 387.5,51.1" fill="none" stroke="#e04f10" stroke-width="1.25"/>
<polygon points="398.65,50.58 400.75,53.38 398.65,56.18 396.55,53.38" fill="none" stroke="#e04f10" stroke-width="1.25"/>
<polygon points="407.7,47.39 409.8,50.19 407.7,52.99 405.6,50.19" fill="none" stroke="#e04f10" stroke-width="1.25"/>
<polyline points="353.4,48.37 362.45,53.84 371.5,51.1 380.55,56.12 389.6,57.03 398.65,53.84 407.7,56.58" fill="none" stroke="#8c8c8c" stroke-width="1.4" stroke-linejoin="round"/>
<polygon points="353.4,45.77 354.13,47.66 356.16,47.77 354.59,49.05 355.1,51.01 353.4,49.92 351.7,51.01 352.21,49.05 350.64,47.77 352.67,47.66" fill="#9a9a9a" stroke="#8c8c8c" stroke-width="0.5"/>
<polygon points="362.45,51.24 363.18,53.13 365.21,53.24 363.64,54.53 364.15,56.49 362.45,55.39 360.75,56.49 361.26,54.53 359.69,53.24 361.72,53.13" fill="#9a9a9a" stroke="#8c8c8c" stroke-width="0.5"/>
<polygon points="371.5,48.5 372.23,50.39 374.26,50.51 372.69,51.79 373.2,53.75 371.5,52.65 369.8,53.75 370.31,51.79 368.74,50.51 370.77,50.39" fill="#9a9a9a" stroke="#8c8c8c" stroke-width="0.5"/>
<polygon points="380.55,53.52 381.28,55.41 383.31,55.52 381.74,56.81 382.25,58.77 380.55,57.67 378.85,58.77 379.36,56.81 377.79,55.52 379.82,55.41" fill="#9a9a9a" stroke="#8c8c8c" stroke-width="0.5"/>
<polygon points="389.6,54.43 390.33,56.32 392.36,56.44 390.79,57.72 391.3,59.68 389.6,58.58 387.9,59.68 388.41,57.72 386.84,56.44 388.87,56.32" fill="#9a9a9a" stroke="#8c8c8c" stroke-width="0.5"/>
<polygon points="398.65,51.24 399.38,53.13 401.41,53.24 399.84,54.53 400.35,56.49 398.65,55.39 396.95,56.49 397.46,54.53 395.89,53.24 397.92,53.13" fill="#9a9a9a" stroke="#8c8c8c" stroke-width="0.5"/>
<polygon points="407.7,53.98 408.43,55.86 410.46,55.98 408.89,57.26 409.4,59.22 407.7,58.13 406,59.22 406.51,57.26 404.94,55.98 406.97,55.86" fill="#9a9a9a" stroke="#8c8c8c" stroke-width="0.5"/>
<polyline points="353.4,43.81 362.45,36.06 371.5,36.06 380.55,27.39 389.6,22.38 398.65,22.38 407.7,23.29" fill="none" stroke="#f0b000" stroke-width="1.4" stroke-linejoin="round"/>
<polygon points="351.1,42.21 355.7,42.21 353.4,46.41" fill="none" stroke="#f0b000" stroke-width="1.25"/>
<polygon points="360.15,34.46 364.75,34.46 362.45,38.66" fill="none" stroke="#f0b000" stroke-width="1.25"/>
<polygon points="369.2,34.46 373.8,34.46 371.5,38.66" fill="none" stroke="#f0b000" stroke-width="1.25"/>
<polygon points="378.25,25.79 382.85,25.79 380.55,29.99" fill="none" stroke="#f0b000" stroke-width="1.25"/>
<polygon points="387.3,20.78 391.9,20.78 389.6,24.98" fill="none" stroke="#f0b000" stroke-width="1.25"/>
<polygon points="396.35,20.78 400.95,20.78 398.65,24.98" fill="none" stroke="#f0b000" stroke-width="1.25"/>
<polygon points="405.4,21.69 410,21.69 407.7,25.89" fill="none" stroke="#f0b000" stroke-width="1.25"/>
<path d="M45.5 72V120.3H108.7" fill="none" stroke="#9a9a9a" stroke-width="0.9"/>
<path d="M45.5 119.8H47.4" stroke="#808080" stroke-width="1.3"/>
<path d="M45.5 97.05H47.4" stroke="#808080" stroke-width="1.3"/>
<path d="M45.5 74.3H47.4" stroke="#808080" stroke-width="1.3"/>
<text x="43.2" y="123" text-anchor="end" class="tk">0</text>
<text x="43.2" y="100.25" text-anchor="end" class="tk">50</text>
<text x="43.2" y="77.5" text-anchor="end" class="tk">100</text>
<polyline points="50,74.3 59.05,74.3 68.1,74.3 77.15,74.3 86.2,77.48 95.25,107.52 104.3,119.8" fill="none" stroke="#6aa823" stroke-width="1.4" stroke-linejoin="round"/>
<circle cx="50" cy="74.3" r="2.15" fill="none" stroke="#6aa823" stroke-width="1.25"/>
<circle cx="59.05" cy="74.3" r="2.15" fill="none" stroke="#6aa823" stroke-width="1.25"/>
<circle cx="68.1" cy="74.3" r="2.15" fill="none" stroke="#6aa823" stroke-width="1.25"/>
<circle cx="77.15" cy="74.3" r="2.15" fill="none" stroke="#6aa823" stroke-width="1.25"/>
<circle cx="86.2" cy="77.48" r="2.15" fill="none" stroke="#6aa823" stroke-width="1.25"/>
<circle cx="95.25" cy="107.52" r="2.15" fill="none" stroke="#6aa823" stroke-width="1.25"/>
<circle cx="104.3" cy="119.8" r="2.15" fill="none" stroke="#6aa823" stroke-width="1.25"/>
<polyline points="50,119.8 59.05,119.8 68.1,119.8 77.15,119.8 86.2,119.8 95.25,119.8 104.3,119.8" fill="none" stroke="#3fb9ee" stroke-width="1.4" stroke-linejoin="round"/>
<rect x="48.15" y="117.95" width="3.7" height="3.7" fill="none" stroke="#3fb9ee" stroke-width="1.25"/>
<rect x="57.2" y="117.95" width="3.7" height="3.7" fill="none" stroke="#3fb9ee" stroke-width="1.25"/>
<rect x="66.25" y="117.95" width="3.7" height="3.7" fill="none" stroke="#3fb9ee" stroke-width="1.25"/>
<rect x="75.3" y="117.95" width="3.7" height="3.7" fill="none" stroke="#3fb9ee" stroke-width="1.25"/>
<rect x="84.35" y="117.95" width="3.7" height="3.7" fill="none" stroke="#3fb9ee" stroke-width="1.25"/>
<rect x="93.4" y="117.95" width="3.7" height="3.7" fill="none" stroke="#3fb9ee" stroke-width="1.25"/>
<rect x="102.45" y="117.95" width="3.7" height="3.7" fill="none" stroke="#3fb9ee" stroke-width="1.25"/>
<polyline points="50,119.8 59.05,119.8 68.1,119.8 77.15,119.8 86.2,117.07 95.25,87.5 104.3,74.3" fill="none" stroke="#0068c4" stroke-width="1.4" stroke-linejoin="round"/>
<polygon points="48.4,117.5 52.6,119.8 48.4,122.1" fill="none" stroke="#0068c4" stroke-width="1.25"/>
<polygon points="57.45,117.5 61.65,119.8 57.45,122.1" fill="none" stroke="#0068c4" stroke-width="1.25"/>
<polygon points="66.5,117.5 70.7,119.8 66.5,122.1" fill="none" stroke="#0068c4" stroke-width="1.25"/>
<polygon points="75.55,117.5 79.75,119.8 75.55,122.1" fill="none" stroke="#0068c4" stroke-width="1.25"/>
<polygon points="84.6,114.77 88.8,117.07 84.6,119.37" fill="none" stroke="#0068c4" stroke-width="1.25"/>
<polygon points="93.65,85.2 97.85,87.5 93.65,89.8" fill="none" stroke="#0068c4" stroke-width="1.25"/>
<polygon points="102.7,72 106.9,74.3 102.7,76.6" fill="none" stroke="#0068c4" stroke-width="1.25"/>
<polyline points="50,119.8 59.05,119.8 68.1,119.8 77.15,119.8 86.2,119.8 95.25,119.8 104.3,119.8" fill="none" stroke="#a20f2c" stroke-width="1.4" stroke-linejoin="round"/>
<polygon points="51.6,117.5 47.4,119.8 51.6,122.1" fill="none" stroke="#a20f2c" stroke-width="1.25"/>
<polygon points="60.65,117.5 56.45,119.8 60.65,122.1" fill="none" stroke="#a20f2c" stroke-width="1.25"/>
<polygon points="69.7,117.5 65.5,119.8 69.7,122.1" fill="none" stroke="#a20f2c" stroke-width="1.25"/>
<polygon points="78.75,117.5 74.55,119.8 78.75,122.1" fill="none" stroke="#a20f2c" stroke-width="1.25"/>
<polygon points="87.8,117.5 83.6,119.8 87.8,122.1" fill="none" stroke="#a20f2c" stroke-width="1.25"/>
<polygon points="96.85,117.5 92.65,119.8 96.85,122.1" fill="none" stroke="#a20f2c" stroke-width="1.25"/>
<polygon points="105.9,117.5 101.7,119.8 105.9,122.1" fill="none" stroke="#a20f2c" stroke-width="1.25"/>
<polyline points="50,119.8 59.05,119.8 68.1,119.8 77.15,119.8 86.2,119.8 95.25,119.8 104.3,119.8" fill="none" stroke="#e04f10" stroke-width="1.4" stroke-linejoin="round"/>
<polygon points="50,117 52.1,119.8 50,122.6 47.9,119.8" fill="none" stroke="#e04f10" stroke-width="1.25"/>
<polygon points="59.05,117 61.15,119.8 59.05,122.6 56.95,119.8" fill="none" stroke="#e04f10" stroke-width="1.25"/>
<polygon points="68.1,117 70.2,119.8 68.1,122.6 66,119.8" fill="none" stroke="#e04f10" stroke-width="1.25"/>
<polygon points="77.15,117 79.25,119.8 77.15,122.6 75.05,119.8" fill="none" stroke="#e04f10" stroke-width="1.25"/>
<polygon points="86.2,117 88.3,119.8 86.2,122.6 84.1,119.8" fill="none" stroke="#e04f10" stroke-width="1.25"/>
<polygon points="95.25,117 97.35,119.8 95.25,122.6 93.15,119.8" fill="none" stroke="#e04f10" stroke-width="1.25"/>
<polygon points="104.3,117 106.4,119.8 104.3,122.6 102.2,119.8" fill="none" stroke="#e04f10" stroke-width="1.25"/>
<polyline points="50,119.8 59.05,119.8 68.1,119.8 77.15,119.8 86.2,119.8 95.25,119.8 104.3,119.8" fill="none" stroke="#8c8c8c" stroke-width="1.4" stroke-linejoin="round"/>
<polygon points="50,117.2 50.73,119.09 52.76,119.2 51.19,120.49 51.7,122.45 50,121.35 48.3,122.45 48.81,120.49 47.24,119.2 49.27,119.09" fill="#9a9a9a" stroke="#8c8c8c" stroke-width="0.5"/>
<polygon points="59.05,117.2 59.78,119.09 61.81,119.2 60.24,120.49 60.75,122.45 59.05,121.35 57.35,122.45 57.86,120.49 56.29,119.2 58.32,119.09" fill="#9a9a9a" stroke="#8c8c8c" stroke-width="0.5"/>
<polygon points="68.1,117.2 68.83,119.09 70.86,119.2 69.29,120.49 69.8,122.45 68.1,121.35 66.4,122.45 66.91,120.49 65.34,119.2 67.37,119.09" fill="#9a9a9a" stroke="#8c8c8c" stroke-width="0.5"/>
<polygon points="77.15,117.2 77.88,119.09 79.91,119.2 78.34,120.49 78.85,122.45 77.15,121.35 75.45,122.45 75.96,120.49 74.39,119.2 76.42,119.09" fill="#9a9a9a" stroke="#8c8c8c" stroke-width="0.5"/>
<polygon points="86.2,117.2 86.93,119.09 88.96,119.2 87.39,120.49 87.9,122.45 86.2,121.35 84.5,122.45 85.01,120.49 83.44,119.2 85.47,119.09" fill="#9a9a9a" stroke="#8c8c8c" stroke-width="0.5"/>
<polygon points="95.25,117.2 95.98,119.09 98.01,119.2 96.44,120.49 96.95,122.45 95.25,121.35 93.55,122.45 94.06,120.49 92.49,119.2 94.52,119.09" fill="#9a9a9a" stroke="#8c8c8c" stroke-width="0.5"/>
<polygon points="104.3,117.2 105.03,119.09 107.06,119.2 105.49,120.49 106,122.45 104.3,121.35 102.6,122.45 103.11,120.49 101.54,119.2 103.57,119.09" fill="#9a9a9a" stroke="#8c8c8c" stroke-width="0.5"/>
<polyline points="50,119.8 59.05,119.8 68.1,119.8 77.15,119.8 86.2,119.8 95.25,119.8 104.3,119.8" fill="none" stroke="#f0b000" stroke-width="1.4" stroke-linejoin="round"/>
<polygon points="47.7,118.2 52.3,118.2 50,122.4" fill="none" stroke="#f0b000" stroke-width="1.25"/>
<polygon points="56.75,118.2 61.35,118.2 59.05,122.4" fill="none" stroke="#f0b000" stroke-width="1.25"/>
<polygon points="65.8,118.2 70.4,118.2 68.1,122.4" fill="none" stroke="#f0b000" stroke-width="1.25"/>
<polygon points="74.85,118.2 79.45,118.2 77.15,122.4" fill="none" stroke="#f0b000" stroke-width="1.25"/>
<polygon points="83.9,118.2 88.5,118.2 86.2,122.4" fill="none" stroke="#f0b000" stroke-width="1.25"/>
<polygon points="92.95,118.2 97.55,118.2 95.25,122.4" fill="none" stroke="#f0b000" stroke-width="1.25"/>
<polygon points="102,118.2 106.6,118.2 104.3,122.4" fill="none" stroke="#f0b000" stroke-width="1.25"/>
<path d="M120.8 72V120.3H184" fill="none" stroke="#9a9a9a" stroke-width="0.9"/>
<path d="M120.8 119.8H122.7" stroke="#808080" stroke-width="1.3"/>
<path d="M120.8 97.05H122.7" stroke="#808080" stroke-width="1.3"/>
<path d="M120.8 74.3H122.7" stroke="#808080" stroke-width="1.3"/>
<polyline points="125.3,74.3 134.35,74.3 143.4,74.3 152.45,74.3 161.5,81.58 170.55,104.78 179.6,118.89" fill="none" stroke="#6aa823" stroke-width="1.4" stroke-linejoin="round"/>
<circle cx="125.3" cy="74.3" r="2.15" fill="none" stroke="#6aa823" stroke-width="1.25"/>
<circle cx="134.35" cy="74.3" r="2.15" fill="none" stroke="#6aa823" stroke-width="1.25"/>
<circle cx="143.4" cy="74.3" r="2.15" fill="none" stroke="#6aa823" stroke-width="1.25"/>
<circle cx="152.45" cy="74.3" r="2.15" fill="none" stroke="#6aa823" stroke-width="1.25"/>
<circle cx="161.5" cy="81.58" r="2.15" fill="none" stroke="#6aa823" stroke-width="1.25"/>
<circle cx="170.55" cy="104.78" r="2.15" fill="none" stroke="#6aa823" stroke-width="1.25"/>
<circle cx="179.6" cy="118.89" r="2.15" fill="none" stroke="#6aa823" stroke-width="1.25"/>
<polyline points="125.3,119.8 134.35,119.8 143.4,119.8 152.45,119.8 161.5,119.8 170.55,119.8 179.6,119.8" fill="none" stroke="#3fb9ee" stroke-width="1.4" stroke-linejoin="round"/>
<rect x="123.45" y="117.95" width="3.7" height="3.7" fill="none" stroke="#3fb9ee" stroke-width="1.25"/>
<rect x="132.5" y="117.95" width="3.7" height="3.7" fill="none" stroke="#3fb9ee" stroke-width="1.25"/>
<rect x="141.55" y="117.95" width="3.7" height="3.7" fill="none" stroke="#3fb9ee" stroke-width="1.25"/>
<rect x="150.6" y="117.95" width="3.7" height="3.7" fill="none" stroke="#3fb9ee" stroke-width="1.25"/>
<rect x="159.65" y="117.95" width="3.7" height="3.7" fill="none" stroke="#3fb9ee" stroke-width="1.25"/>
<rect x="168.7" y="117.95" width="3.7" height="3.7" fill="none" stroke="#3fb9ee" stroke-width="1.25"/>
<rect x="177.75" y="117.95" width="3.7" height="3.7" fill="none" stroke="#3fb9ee" stroke-width="1.25"/>
<polyline points="125.3,119.8 134.35,119.8 143.4,119.8 152.45,119.8 161.5,119.8 170.55,119.8 179.6,119.8" fill="none" stroke="#0068c4" stroke-width="1.4" stroke-linejoin="round"/>
<polygon points="123.7,117.5 127.9,119.8 123.7,122.1" fill="none" stroke="#0068c4" stroke-width="1.25"/>
<polygon points="132.75,117.5 136.95,119.8 132.75,122.1" fill="none" stroke="#0068c4" stroke-width="1.25"/>
<polygon points="141.8,117.5 146,119.8 141.8,122.1" fill="none" stroke="#0068c4" stroke-width="1.25"/>
<polygon points="150.85,117.5 155.05,119.8 150.85,122.1" fill="none" stroke="#0068c4" stroke-width="1.25"/>
<polygon points="159.9,117.5 164.1,119.8 159.9,122.1" fill="none" stroke="#0068c4" stroke-width="1.25"/>
<polygon points="168.95,117.5 173.15,119.8 168.95,122.1" fill="none" stroke="#0068c4" stroke-width="1.25"/>
<polygon points="178,117.5 182.2,119.8 178,122.1" fill="none" stroke="#0068c4" stroke-width="1.25"/>
<polyline points="125.3,119.8 134.35,119.8 143.4,119.8 152.45,119.8 161.5,111.61 170.55,104.78 179.6,89.31" fill="none" stroke="#a20f2c" stroke-width="1.4" stroke-linejoin="round"/>
<polygon points="126.9,117.5 122.7,119.8 126.9,122.1" fill="none" stroke="#a20f2c" stroke-width="1.25"/>
<polygon points="135.95,117.5 131.75,119.8 135.95,122.1" fill="none" stroke="#a20f2c" stroke-width="1.25"/>
<polygon points="145,117.5 140.8,119.8 145,122.1" fill="none" stroke="#a20f2c" stroke-width="1.25"/>
<polygon points="154.05,117.5 149.85,119.8 154.05,122.1" fill="none" stroke="#a20f2c" stroke-width="1.25"/>
<polygon points="163.1,109.31 158.9,111.61 163.1,113.91" fill="none" stroke="#a20f2c" stroke-width="1.25"/>
<polygon points="172.15,102.48 167.95,104.78 172.15,107.08" fill="none" stroke="#a20f2c" stroke-width="1.25"/>
<polygon points="181.2,87.02 177,89.31 181.2,91.61" fill="none" stroke="#a20f2c" stroke-width="1.25"/>
<polyline points="125.3,119.8 134.35,119.8 143.4,119.8 152.45,119.8 161.5,119.8 170.55,104.78 179.6,104.33" fill="none" stroke="#e04f10" stroke-width="1.4" stroke-linejoin="round"/>
<polygon points="125.3,117 127.4,119.8 125.3,122.6 123.2,119.8" fill="none" stroke="#e04f10" stroke-width="1.25"/>
<polygon points="134.35,117 136.45,119.8 134.35,122.6 132.25,119.8" fill="none" stroke="#e04f10" stroke-width="1.25"/>
<polygon points="143.4,117 145.5,119.8 143.4,122.6 141.3,119.8" fill="none" stroke="#e04f10" stroke-width="1.25"/>
<polygon points="152.45,117 154.55,119.8 152.45,122.6 150.35,119.8" fill="none" stroke="#e04f10" stroke-width="1.25"/>
<polygon points="161.5,117 163.6,119.8 161.5,122.6 159.4,119.8" fill="none" stroke="#e04f10" stroke-width="1.25"/>
<polygon points="170.55,101.98 172.65,104.78 170.55,107.58 168.45,104.78" fill="none" stroke="#e04f10" stroke-width="1.25"/>
<polygon points="179.6,101.53 181.7,104.33 179.6,107.13 177.5,104.33" fill="none" stroke="#e04f10" stroke-width="1.25"/>
<polyline points="125.3,119.8 134.35,119.8 143.4,119.8 152.45,119.8 161.5,119.8 170.55,119.8 179.6,119.8" fill="none" stroke="#8c8c8c" stroke-width="1.4" stroke-linejoin="round"/>
<polygon points="125.3,117.2 126.03,119.09 128.06,119.2 126.49,120.49 127,122.45 125.3,121.35 123.6,122.45 124.11,120.49 122.54,119.2 124.57,119.09" fill="#9a9a9a" stroke="#8c8c8c" stroke-width="0.5"/>
<polygon points="134.35,117.2 135.08,119.09 137.11,119.2 135.54,120.49 136.05,122.45 134.35,121.35 132.65,122.45 133.16,120.49 131.59,119.2 133.62,119.09" fill="#9a9a9a" stroke="#8c8c8c" stroke-width="0.5"/>
<polygon points="143.4,117.2 144.13,119.09 146.16,119.2 144.59,120.49 145.1,122.45 143.4,121.35 141.7,122.45 142.21,120.49 140.64,119.2 142.67,119.09" fill="#9a9a9a" stroke="#8c8c8c" stroke-width="0.5"/>
<polygon points="152.45,117.2 153.18,119.09 155.21,119.2 153.64,120.49 154.15,122.45 152.45,121.35 150.75,122.45 151.26,120.49 149.69,119.2 151.72,119.09" fill="#9a9a9a" stroke="#8c8c8c" stroke-width="0.5"/>
<polygon points="161.5,117.2 162.23,119.09 164.26,119.2 162.69,120.49 163.2,122.45 161.5,121.35 159.8,122.45 160.31,120.49 158.74,119.2 160.77,119.09" fill="#9a9a9a" stroke="#8c8c8c" stroke-width="0.5"/>
<polygon points="170.55,117.2 171.28,119.09 173.31,119.2 171.74,120.49 172.25,122.45 170.55,121.35 168.85,122.45 169.36,120.49 167.79,119.2 169.82,119.09" fill="#9a9a9a" stroke="#8c8c8c" stroke-width="0.5"/>
<polygon points="179.6,117.2 180.33,119.09 182.36,119.2 180.79,120.49 181.3,122.45 179.6,121.35 177.9,122.45 178.41,120.49 176.84,119.2 178.87,119.09" fill="#9a9a9a" stroke="#8c8c8c" stroke-width="0.5"/>
<polyline points="125.3,119.8 134.35,119.8 143.4,119.8 152.45,119.8 161.5,119.8 170.55,119.8 179.6,119.8" fill="none" stroke="#f0b000" stroke-width="1.4" stroke-linejoin="round"/>
<polygon points="123,118.2 127.6,118.2 125.3,122.4" fill="none" stroke="#f0b000" stroke-width="1.25"/>
<polygon points="132.05,118.2 136.65,118.2 134.35,122.4" fill="none" stroke="#f0b000" stroke-width="1.25"/>
<polygon points="141.1,118.2 145.7,118.2 143.4,122.4" fill="none" stroke="#f0b000" stroke-width="1.25"/>
<polygon points="150.15,118.2 154.75,118.2 152.45,122.4" fill="none" stroke="#f0b000" stroke-width="1.25"/>
<polygon points="159.2,118.2 163.8,118.2 161.5,122.4" fill="none" stroke="#f0b000" stroke-width="1.25"/>
<polygon points="168.25,118.2 172.85,118.2 170.55,122.4" fill="none" stroke="#f0b000" stroke-width="1.25"/>
<polygon points="177.3,118.2 181.9,118.2 179.6,122.4" fill="none" stroke="#f0b000" stroke-width="1.25"/>
<path d="M196.6 72V120.3H259.8" fill="none" stroke="#9a9a9a" stroke-width="0.9"/>
<path d="M196.6 119.8H198.5" stroke="#808080" stroke-width="1.3"/>
<path d="M196.6 97.05H198.5" stroke="#808080" stroke-width="1.3"/>
<path d="M196.6 74.3H198.5" stroke="#808080" stroke-width="1.3"/>
<polyline points="201.1,119.8 210.15,119.8 219.2,119.8 228.25,119.8 237.3,119.8 246.35,119.8 255.4,119.8" fill="none" stroke="#6aa823" stroke-width="1.4" stroke-linejoin="round"/>
<circle cx="201.1" cy="119.8" r="2.15" fill="none" stroke="#6aa823" stroke-width="1.25"/>
<circle cx="210.15" cy="119.8" r="2.15" fill="none" stroke="#6aa823" stroke-width="1.25"/>
<circle cx="219.2" cy="119.8" r="2.15" fill="none" stroke="#6aa823" stroke-width="1.25"/>
<circle cx="228.25" cy="119.8" r="2.15" fill="none" stroke="#6aa823" stroke-width="1.25"/>
<circle cx="237.3" cy="119.8" r="2.15" fill="none" stroke="#6aa823" stroke-width="1.25"/>
<circle cx="246.35" cy="119.8" r="2.15" fill="none" stroke="#6aa823" stroke-width="1.25"/>
<circle cx="255.4" cy="119.8" r="2.15" fill="none" stroke="#6aa823" stroke-width="1.25"/>
<polyline points="201.1,119.8 210.15,115.25 219.2,117.52 228.25,108.42 237.3,115.25 246.35,117.98 255.4,119.8" fill="none" stroke="#3fb9ee" stroke-width="1.4" stroke-linejoin="round"/>
<rect x="199.25" y="117.95" width="3.7" height="3.7" fill="none" stroke="#3fb9ee" stroke-width="1.25"/>
<rect x="208.3" y="113.4" width="3.7" height="3.7" fill="none" stroke="#3fb9ee" stroke-width="1.25"/>
<rect x="217.35" y="115.67" width="3.7" height="3.7" fill="none" stroke="#3fb9ee" stroke-width="1.25"/>
<rect x="226.4" y="106.58" width="3.7" height="3.7" fill="none" stroke="#3fb9ee" stroke-width="1.25"/>
<rect x="235.45" y="113.4" width="3.7" height="3.7" fill="none" stroke="#3fb9ee" stroke-width="1.25"/>
<rect x="244.5" y="116.13" width="3.7" height="3.7" fill="none" stroke="#3fb9ee" stroke-width="1.25"/>
<rect x="253.55" y="117.95" width="3.7" height="3.7" fill="none" stroke="#3fb9ee" stroke-width="1.25"/>
<polyline points="201.1,74.75 210.15,78.85 219.2,77.03 228.25,87.5 237.3,88.41 246.35,103.42 255.4,107.52" fill="none" stroke="#0068c4" stroke-width="1.4" stroke-linejoin="round"/>
<polygon points="199.5,72.45 203.7,74.75 199.5,77.05" fill="none" stroke="#0068c4" stroke-width="1.25"/>
<polygon points="208.55,76.55 212.75,78.85 208.55,81.15" fill="none" stroke="#0068c4" stroke-width="1.25"/>
<polygon points="217.6,74.73 221.8,77.03 217.6,79.33" fill="none" stroke="#0068c4" stroke-width="1.25"/>
<polygon points="226.65,85.2 230.85,87.5 226.65,89.8" fill="none" stroke="#0068c4" stroke-width="1.25"/>
<polygon points="235.7,86.11 239.9,88.41 235.7,90.7" fill="none" stroke="#0068c4" stroke-width="1.25"/>
<polygon points="244.75,101.12 248.95,103.42 244.75,105.72" fill="none" stroke="#0068c4" stroke-width="1.25"/>
<polygon points="253.8,105.22 258,107.52 253.8,109.81" fill="none" stroke="#0068c4" stroke-width="1.25"/>
<polyline points="201.1,119.8 210.15,119.8 219.2,119.8 228.25,119.8 237.3,119.8 246.35,119.8 255.4,119.8" fill="none" stroke="#a20f2c" stroke-width="1.4" stroke-linejoin="round"/>
<polygon points="202.7,117.5 198.5,119.8 202.7,122.1" fill="none" stroke="#a20f2c" stroke-width="1.25"/>
<polygon points="211.75,117.5 207.55,119.8 211.75,122.1" fill="none" stroke="#a20f2c" stroke-width="1.25"/>
<polygon points="220.8,117.5 216.6,119.8 220.8,122.1" fill="none" stroke="#a20f2c" stroke-width="1.25"/>
<polygon points="229.85,117.5 225.65,119.8 229.85,122.1" fill="none" stroke="#a20f2c" stroke-width="1.25"/>
<polygon points="238.9,117.5 234.7,119.8 238.9,122.1" fill="none" stroke="#a20f2c" stroke-width="1.25"/>
<polygon points="247.95,117.5 243.75,119.8 247.95,122.1" fill="none" stroke="#a20f2c" stroke-width="1.25"/>
<polygon points="257,117.5 252.8,119.8 257,122.1" fill="none" stroke="#a20f2c" stroke-width="1.25"/>
<polyline points="201.1,119.8 210.15,119.8 219.2,119.8 228.25,116.16 237.3,109.33 246.35,97.96 255.4,86.58" fill="none" stroke="#e04f10" stroke-width="1.4" stroke-linejoin="round"/>
<polygon points="201.1,117 203.2,119.8 201.1,122.6 199,119.8" fill="none" stroke="#e04f10" stroke-width="1.25"/>
<polygon points="210.15,117 212.25,119.8 210.15,122.6 208.05,119.8" fill="none" stroke="#e04f10" stroke-width="1.25"/>
<polygon points="219.2,117 221.3,119.8 219.2,122.6 217.1,119.8" fill="none" stroke="#e04f10" stroke-width="1.25"/>
<polygon points="228.25,113.36 230.35,116.16 228.25,118.96 226.15,116.16" fill="none" stroke="#e04f10" stroke-width="1.25"/>
<polygon points="237.3,106.53 239.4,109.33 237.3,112.13 235.2,109.33" fill="none" stroke="#e04f10" stroke-width="1.25"/>
<polygon points="246.35,95.16 248.45,97.96 246.35,100.76 244.25,97.96" fill="none" stroke="#e04f10" stroke-width="1.25"/>
<polygon points="255.4,83.78 257.5,86.58 255.4,89.38 253.3,86.58" fill="none" stroke="#e04f10" stroke-width="1.25"/>
<polyline points="201.1,119.8 210.15,119.8 219.2,119.8 228.25,119.8 237.3,119.8 246.35,113.88 255.4,119.8" fill="none" stroke="#8c8c8c" stroke-width="1.4" stroke-linejoin="round"/>
<polygon points="201.1,117.2 201.83,119.09 203.86,119.2 202.29,120.49 202.8,122.45 201.1,121.35 199.4,122.45 199.91,120.49 198.34,119.2 200.37,119.09" fill="#9a9a9a" stroke="#8c8c8c" stroke-width="0.5"/>
<polygon points="210.15,117.2 210.88,119.09 212.91,119.2 211.34,120.49 211.85,122.45 210.15,121.35 208.45,122.45 208.96,120.49 207.39,119.2 209.42,119.09" fill="#9a9a9a" stroke="#8c8c8c" stroke-width="0.5"/>
<polygon points="219.2,117.2 219.93,119.09 221.96,119.2 220.39,120.49 220.9,122.45 219.2,121.35 217.5,122.45 218.01,120.49 216.44,119.2 218.47,119.09" fill="#9a9a9a" stroke="#8c8c8c" stroke-width="0.5"/>
<polygon points="228.25,117.2 228.98,119.09 231.01,119.2 229.44,120.49 229.95,122.45 228.25,121.35 226.55,122.45 227.06,120.49 225.49,119.2 227.52,119.09" fill="#9a9a9a" stroke="#8c8c8c" stroke-width="0.5"/>
<polygon points="237.3,117.2 238.03,119.09 240.06,119.2 238.49,120.49 239,122.45 237.3,121.35 235.6,122.45 236.11,120.49 234.54,119.2 236.57,119.09" fill="#9a9a9a" stroke="#8c8c8c" stroke-width="0.5"/>
<polygon points="246.35,111.28 247.08,113.17 249.11,113.29 247.54,114.57 248.05,116.53 246.35,115.43 244.65,116.53 245.16,114.57 243.59,113.29 245.62,113.17" fill="#9a9a9a" stroke="#8c8c8c" stroke-width="0.5"/>
<polygon points="255.4,117.2 256.13,119.09 258.16,119.2 256.59,120.49 257.1,122.45 255.4,121.35 253.7,122.45 254.21,120.49 252.64,119.2 254.67,119.09" fill="#9a9a9a" stroke="#8c8c8c" stroke-width="0.5"/>
<polyline points="201.1,119.8 210.15,119.8 219.2,119.8 228.25,119.8 237.3,119.8 246.35,119.8 255.4,119.8" fill="none" stroke="#f0b000" stroke-width="1.4" stroke-linejoin="round"/>
<polygon points="198.8,118.2 203.4,118.2 201.1,122.4" fill="none" stroke="#f0b000" stroke-width="1.25"/>
<polygon points="207.85,118.2 212.45,118.2 210.15,122.4" fill="none" stroke="#f0b000" stroke-width="1.25"/>
<polygon points="216.9,118.2 221.5,118.2 219.2,122.4" fill="none" stroke="#f0b000" stroke-width="1.25"/>
<polygon points="225.95,118.2 230.55,118.2 228.25,122.4" fill="none" stroke="#f0b000" stroke-width="1.25"/>
<polygon points="235,118.2 239.6,118.2 237.3,122.4" fill="none" stroke="#f0b000" stroke-width="1.25"/>
<polygon points="244.05,118.2 248.65,118.2 246.35,122.4" fill="none" stroke="#f0b000" stroke-width="1.25"/>
<polygon points="253.1,118.2 257.7,118.2 255.4,122.4" fill="none" stroke="#f0b000" stroke-width="1.25"/>
<path d="M273.7 72V120.3H336.9" fill="none" stroke="#9a9a9a" stroke-width="0.9"/>
<path d="M273.7 119.8H275.6" stroke="#808080" stroke-width="1.3"/>
<path d="M273.7 97.05H275.6" stroke="#808080" stroke-width="1.3"/>
<path d="M273.7 74.3H275.6" stroke="#808080" stroke-width="1.3"/>
<polyline points="278.2,119.8 287.25,119.8 296.3,119.8 305.35,119.8 314.4,119.8 323.45,119.8 332.5,119.8" fill="none" stroke="#6aa823" stroke-width="1.4" stroke-linejoin="round"/>
<circle cx="278.2" cy="119.8" r="2.15" fill="none" stroke="#6aa823" stroke-width="1.25"/>
<circle cx="287.25" cy="119.8" r="2.15" fill="none" stroke="#6aa823" stroke-width="1.25"/>
<circle cx="296.3" cy="119.8" r="2.15" fill="none" stroke="#6aa823" stroke-width="1.25"/>
<circle cx="305.35" cy="119.8" r="2.15" fill="none" stroke="#6aa823" stroke-width="1.25"/>
<circle cx="314.4" cy="119.8" r="2.15" fill="none" stroke="#6aa823" stroke-width="1.25"/>
<circle cx="323.45" cy="119.8" r="2.15" fill="none" stroke="#6aa823" stroke-width="1.25"/>
<circle cx="332.5" cy="119.8" r="2.15" fill="none" stroke="#6aa823" stroke-width="1.25"/>
<polyline points="278.2,119.8 287.25,119.8 296.3,97.96 305.35,81.58 314.4,74.75 323.45,74.75 332.5,74.75" fill="none" stroke="#3fb9ee" stroke-width="1.4" stroke-linejoin="round"/>
<rect x="276.35" y="117.95" width="3.7" height="3.7" fill="none" stroke="#3fb9ee" stroke-width="1.25"/>
<rect x="285.4" y="117.95" width="3.7" height="3.7" fill="none" stroke="#3fb9ee" stroke-width="1.25"/>
<rect x="294.45" y="96.11" width="3.7" height="3.7" fill="none" stroke="#3fb9ee" stroke-width="1.25"/>
<rect x="303.5" y="79.73" width="3.7" height="3.7" fill="none" stroke="#3fb9ee" stroke-width="1.25"/>
<rect x="312.55" y="72.91" width="3.7" height="3.7" fill="none" stroke="#3fb9ee" stroke-width="1.25"/>
<rect x="321.6" y="72.91" width="3.7" height="3.7" fill="none" stroke="#3fb9ee" stroke-width="1.25"/>
<rect x="330.65" y="72.91" width="3.7" height="3.7" fill="none" stroke="#3fb9ee" stroke-width="1.25"/>
<polyline points="278.2,75.21 287.25,75.21 296.3,98.87 305.35,112.52 314.4,119.8 323.45,119.8 332.5,119.8" fill="none" stroke="#0068c4" stroke-width="1.4" stroke-linejoin="round"/>
<polygon points="276.6,72.91 280.8,75.21 276.6,77.51" fill="none" stroke="#0068c4" stroke-width="1.25"/>
<polygon points="285.65,72.91 289.85,75.21 285.65,77.51" fill="none" stroke="#0068c4" stroke-width="1.25"/>
<polygon points="294.7,96.57 298.9,98.87 294.7,101.17" fill="none" stroke="#0068c4" stroke-width="1.25"/>
<polygon points="303.75,110.22 307.95,112.52 303.75,114.82" fill="none" stroke="#0068c4" stroke-width="1.25"/>
<polygon points="312.8,117.5 317,119.8 312.8,122.1" fill="none" stroke="#0068c4" stroke-width="1.25"/>
<polygon points="321.85,117.5 326.05,119.8 321.85,122.1" fill="none" stroke="#0068c4" stroke-width="1.25"/>
<polygon points="330.9,117.5 335.1,119.8 330.9,122.1" fill="none" stroke="#0068c4" stroke-width="1.25"/>
<polyline points="278.2,119.8 287.25,119.8 296.3,119.8 305.35,119.8 314.4,119.8 323.45,119.8 332.5,119.8" fill="none" stroke="#a20f2c" stroke-width="1.4" stroke-linejoin="round"/>
<polygon points="279.8,117.5 275.6,119.8 279.8,122.1" fill="none" stroke="#a20f2c" stroke-width="1.25"/>
<polygon points="288.85,117.5 284.65,119.8 288.85,122.1" fill="none" stroke="#a20f2c" stroke-width="1.25"/>
<polygon points="297.9,117.5 293.7,119.8 297.9,122.1" fill="none" stroke="#a20f2c" stroke-width="1.25"/>
<polygon points="306.95,117.5 302.75,119.8 306.95,122.1" fill="none" stroke="#a20f2c" stroke-width="1.25"/>
<polygon points="316,117.5 311.8,119.8 316,122.1" fill="none" stroke="#a20f2c" stroke-width="1.25"/>
<polygon points="325.05,117.5 320.85,119.8 325.05,122.1" fill="none" stroke="#a20f2c" stroke-width="1.25"/>
<polygon points="334.1,117.5 329.9,119.8 334.1,122.1" fill="none" stroke="#a20f2c" stroke-width="1.25"/>
<polyline points="278.2,119.8 287.25,119.8 296.3,119.8 305.35,119.8 314.4,119.8 323.45,119.8 332.5,119.8" fill="none" stroke="#e04f10" stroke-width="1.4" stroke-linejoin="round"/>
<polygon points="278.2,117 280.3,119.8 278.2,122.6 276.1,119.8" fill="none" stroke="#e04f10" stroke-width="1.25"/>
<polygon points="287.25,117 289.35,119.8 287.25,122.6 285.15,119.8" fill="none" stroke="#e04f10" stroke-width="1.25"/>
<polygon points="296.3,117 298.4,119.8 296.3,122.6 294.2,119.8" fill="none" stroke="#e04f10" stroke-width="1.25"/>
<polygon points="305.35,117 307.45,119.8 305.35,122.6 303.25,119.8" fill="none" stroke="#e04f10" stroke-width="1.25"/>
<polygon points="314.4,117 316.5,119.8 314.4,122.6 312.3,119.8" fill="none" stroke="#e04f10" stroke-width="1.25"/>
<polygon points="323.45,117 325.55,119.8 323.45,122.6 321.35,119.8" fill="none" stroke="#e04f10" stroke-width="1.25"/>
<polygon points="332.5,117 334.6,119.8 332.5,122.6 330.4,119.8" fill="none" stroke="#e04f10" stroke-width="1.25"/>
<polyline points="278.2,119.8 287.25,119.8 296.3,119.8 305.35,119.8 314.4,119.8 323.45,119.8 332.5,119.8" fill="none" stroke="#8c8c8c" stroke-width="1.4" stroke-linejoin="round"/>
<polygon points="278.2,117.2 278.93,119.09 280.96,119.2 279.39,120.49 279.9,122.45 278.2,121.35 276.5,122.45 277.01,120.49 275.44,119.2 277.47,119.09" fill="#9a9a9a" stroke="#8c8c8c" stroke-width="0.5"/>
<polygon points="287.25,117.2 287.98,119.09 290.01,119.2 288.44,120.49 288.95,122.45 287.25,121.35 285.55,122.45 286.06,120.49 284.49,119.2 286.52,119.09" fill="#9a9a9a" stroke="#8c8c8c" stroke-width="0.5"/>
<polygon points="296.3,117.2 297.03,119.09 299.06,119.2 297.49,120.49 298,122.45 296.3,121.35 294.6,122.45 295.11,120.49 293.54,119.2 295.57,119.09" fill="#9a9a9a" stroke="#8c8c8c" stroke-width="0.5"/>
<polygon points="305.35,117.2 306.08,119.09 308.11,119.2 306.54,120.49 307.05,122.45 305.35,121.35 303.65,122.45 304.16,120.49 302.59,119.2 304.62,119.09" fill="#9a9a9a" stroke="#8c8c8c" stroke-width="0.5"/>
<polygon points="314.4,117.2 315.13,119.09 317.16,119.2 315.59,120.49 316.1,122.45 314.4,121.35 312.7,122.45 313.21,120.49 311.64,119.2 313.67,119.09" fill="#9a9a9a" stroke="#8c8c8c" stroke-width="0.5"/>
<polygon points="323.45,117.2 324.18,119.09 326.21,119.2 324.64,120.49 325.15,122.45 323.45,121.35 321.75,122.45 322.26,120.49 320.69,119.2 322.72,119.09" fill="#9a9a9a" stroke="#8c8c8c" stroke-width="0.5"/>
<polygon points="332.5,117.2 333.23,119.09 335.26,119.2 333.69,120.49 334.2,122.45 332.5,121.35 330.8,122.45 331.31,120.49 329.74,119.2 331.77,119.09" fill="#9a9a9a" stroke="#8c8c8c" stroke-width="0.5"/>
<polyline points="278.2,119.8 287.25,119.8 296.3,119.8 305.35,119.8 314.4,119.8 323.45,119.8 332.5,119.8" fill="none" stroke="#f0b000" stroke-width="1.4" stroke-linejoin="round"/>
<polygon points="275.9,118.2 280.5,118.2 278.2,122.4" fill="none" stroke="#f0b000" stroke-width="1.25"/>
<polygon points="284.95,118.2 289.55,118.2 287.25,122.4" fill="none" stroke="#f0b000" stroke-width="1.25"/>
<polygon points="294,118.2 298.6,118.2 296.3,122.4" fill="none" stroke="#f0b000" stroke-width="1.25"/>
<polygon points="303.05,118.2 307.65,118.2 305.35,122.4" fill="none" stroke="#f0b000" stroke-width="1.25"/>
<polygon points="312.1,118.2 316.7,118.2 314.4,122.4" fill="none" stroke="#f0b000" stroke-width="1.25"/>
<polygon points="321.15,118.2 325.75,118.2 323.45,122.4" fill="none" stroke="#f0b000" stroke-width="1.25"/>
<polygon points="330.2,118.2 334.8,118.2 332.5,122.4" fill="none" stroke="#f0b000" stroke-width="1.25"/>
<path d="M349.7 72V120.3H412.9" fill="none" stroke="#9a9a9a" stroke-width="0.9"/>
<path d="M349.7 119.8H351.6" stroke="#808080" stroke-width="1.3"/>
<path d="M349.7 97.05H351.6" stroke="#808080" stroke-width="1.3"/>
<path d="M349.7 74.3H351.6" stroke="#808080" stroke-width="1.3"/>
<polyline points="354.2,119.8 363.25,119.8 372.3,119.8 381.35,119.8 390.4,119.8 399.45,119.8 408.5,119.8" fill="none" stroke="#6aa823" stroke-width="1.4" stroke-linejoin="round"/>
<circle cx="354.2" cy="119.8" r="2.15" fill="none" stroke="#6aa823" stroke-width="1.25"/>
<circle cx="363.25" cy="119.8" r="2.15" fill="none" stroke="#6aa823" stroke-width="1.25"/>
<circle cx="372.3" cy="119.8" r="2.15" fill="none" stroke="#6aa823" stroke-width="1.25"/>
<circle cx="381.35" cy="119.8" r="2.15" fill="none" stroke="#6aa823" stroke-width="1.25"/>
<circle cx="390.4" cy="119.8" r="2.15" fill="none" stroke="#6aa823" stroke-width="1.25"/>
<circle cx="399.45" cy="119.8" r="2.15" fill="none" stroke="#6aa823" stroke-width="1.25"/>
<circle cx="408.5" cy="119.8" r="2.15" fill="none" stroke="#6aa823" stroke-width="1.25"/>
<polyline points="354.2,119.8 363.25,119.8 372.3,119.8 381.35,119.8 390.4,119.8 399.45,119.8 408.5,119.8" fill="none" stroke="#3fb9ee" stroke-width="1.4" stroke-linejoin="round"/>
<rect x="352.35" y="117.95" width="3.7" height="3.7" fill="none" stroke="#3fb9ee" stroke-width="1.25"/>
<rect x="361.4" y="117.95" width="3.7" height="3.7" fill="none" stroke="#3fb9ee" stroke-width="1.25"/>
<rect x="370.45" y="117.95" width="3.7" height="3.7" fill="none" stroke="#3fb9ee" stroke-width="1.25"/>
<rect x="379.5" y="117.95" width="3.7" height="3.7" fill="none" stroke="#3fb9ee" stroke-width="1.25"/>
<rect x="388.55" y="117.95" width="3.7" height="3.7" fill="none" stroke="#3fb9ee" stroke-width="1.25"/>
<rect x="397.6" y="117.95" width="3.7" height="3.7" fill="none" stroke="#3fb9ee" stroke-width="1.25"/>
<rect x="406.65" y="117.95" width="3.7" height="3.7" fill="none" stroke="#3fb9ee" stroke-width="1.25"/>
<polyline points="354.2,119.8 363.25,119.8 372.3,119.8 381.35,119.8 390.4,119.8 399.45,119.8 408.5,119.8" fill="none" stroke="#0068c4" stroke-width="1.4" stroke-linejoin="round"/>
<polygon points="352.6,117.5 356.8,119.8 352.6,122.1" fill="none" stroke="#0068c4" stroke-width="1.25"/>
<polygon points="361.65,117.5 365.85,119.8 361.65,122.1" fill="none" stroke="#0068c4" stroke-width="1.25"/>
<polygon points="370.7,117.5 374.9,119.8 370.7,122.1" fill="none" stroke="#0068c4" stroke-width="1.25"/>
<polygon points="379.75,117.5 383.95,119.8 379.75,122.1" fill="none" stroke="#0068c4" stroke-width="1.25"/>
<polygon points="388.8,117.5 393,119.8 388.8,122.1" fill="none" stroke="#0068c4" stroke-width="1.25"/>
<polygon points="397.85,117.5 402.05,119.8 397.85,122.1" fill="none" stroke="#0068c4" stroke-width="1.25"/>
<polygon points="406.9,117.5 411.1,119.8 406.9,122.1" fill="none" stroke="#0068c4" stroke-width="1.25"/>
<polyline points="354.2,115.25 363.25,119.8 372.3,119.8 381.35,119.8 390.4,119.8 399.45,119.8 408.5,119.8" fill="none" stroke="#a20f2c" stroke-width="1.4" stroke-linejoin="round"/>
<polygon points="355.8,112.95 351.6,115.25 355.8,117.55" fill="none" stroke="#a20f2c" stroke-width="1.25"/>
<polygon points="364.85,117.5 360.65,119.8 364.85,122.1" fill="none" stroke="#a20f2c" stroke-width="1.25"/>
<polygon points="373.9,117.5 369.7,119.8 373.9,122.1" fill="none" stroke="#a20f2c" stroke-width="1.25"/>
<polygon points="382.95,117.5 378.75,119.8 382.95,122.1" fill="none" stroke="#a20f2c" stroke-width="1.25"/>
<polygon points="392,117.5 387.8,119.8 392,122.1" fill="none" stroke="#a20f2c" stroke-width="1.25"/>
<polygon points="401.05,117.5 396.85,119.8 401.05,122.1" fill="none" stroke="#a20f2c" stroke-width="1.25"/>
<polygon points="410.1,117.5 405.9,119.8 410.1,122.1" fill="none" stroke="#a20f2c" stroke-width="1.25"/>
<polyline points="354.2,79.31 363.25,79.76 372.3,92.5 381.35,110.7 390.4,117.98 399.45,119.8 408.5,119.8" fill="none" stroke="#e04f10" stroke-width="1.4" stroke-linejoin="round"/>
<polygon points="354.2,76.51 356.3,79.31 354.2,82.11 352.1,79.31" fill="none" stroke="#e04f10" stroke-width="1.25"/>
<polygon points="363.25,76.96 365.35,79.76 363.25,82.56 361.15,79.76" fill="none" stroke="#e04f10" stroke-width="1.25"/>
<polygon points="372.3,89.7 374.4,92.5 372.3,95.3 370.2,92.5" fill="none" stroke="#e04f10" stroke-width="1.25"/>
<polygon points="381.35,107.9 383.45,110.7 381.35,113.5 379.25,110.7" fill="none" stroke="#e04f10" stroke-width="1.25"/>
<polygon points="390.4,115.18 392.5,117.98 390.4,120.78 388.3,117.98" fill="none" stroke="#e04f10" stroke-width="1.25"/>
<polygon points="399.45,117 401.55,119.8 399.45,122.6 397.35,119.8" fill="none" stroke="#e04f10" stroke-width="1.25"/>
<polygon points="408.5,117 410.6,119.8 408.5,122.6 406.4,119.8" fill="none" stroke="#e04f10" stroke-width="1.25"/>
<polyline points="354.2,119.8 363.25,118.44 372.3,107.06 381.35,105.69 390.4,116.61 399.45,116.61 408.5,118.89" fill="none" stroke="#8c8c8c" stroke-width="1.4" stroke-linejoin="round"/>
<polygon points="354.2,117.2 354.93,119.09 356.96,119.2 355.39,120.49 355.9,122.45 354.2,121.35 352.5,122.45 353.01,120.49 351.44,119.2 353.47,119.09" fill="#9a9a9a" stroke="#8c8c8c" stroke-width="0.5"/>
<polygon points="363.25,115.83 363.98,117.72 366.01,117.84 364.44,119.12 364.95,121.08 363.25,119.98 361.55,121.08 362.06,119.12 360.49,117.84 362.52,117.72" fill="#9a9a9a" stroke="#8c8c8c" stroke-width="0.5"/>
<polygon points="372.3,104.46 373.03,106.35 375.06,106.46 373.49,107.75 374,109.71 372.3,108.61 370.6,109.71 371.11,107.75 369.54,106.46 371.57,106.35" fill="#9a9a9a" stroke="#8c8c8c" stroke-width="0.5"/>
<polygon points="381.35,103.09 382.08,104.98 384.11,105.1 382.54,106.38 383.05,108.34 381.35,107.24 379.65,108.34 380.16,106.38 378.59,105.1 380.62,104.98" fill="#9a9a9a" stroke="#8c8c8c" stroke-width="0.5"/>
<polygon points="390.4,114.01 391.13,115.9 393.16,116.02 391.59,117.3 392.1,119.26 390.4,118.16 388.7,119.26 389.21,117.3 387.64,116.02 389.67,115.9" fill="#9a9a9a" stroke="#8c8c8c" stroke-width="0.5"/>
<polygon points="399.45,114.01 400.18,115.9 402.21,116.02 400.64,117.3 401.15,119.26 399.45,118.16 397.75,119.26 398.26,117.3 396.69,116.02 398.72,115.9" fill="#9a9a9a" stroke="#8c8c8c" stroke-width="0.5"/>
<polygon points="408.5,116.29 409.23,118.18 411.26,118.29 409.69,119.58 410.2,121.54 408.5,120.44 406.8,121.54 407.31,119.58 405.74,118.29 407.77,118.18" fill="#9a9a9a" stroke="#8c8c8c" stroke-width="0.5"/>
<polyline points="354.2,119.8 363.25,117.07 372.3,114.8 381.35,97.96 390.4,78.85 399.45,77.03 408.5,75.21" fill="none" stroke="#f0b000" stroke-width="1.4" stroke-linejoin="round"/>
<polygon points="351.9,118.2 356.5,118.2 354.2,122.4" fill="none" stroke="#f0b000" stroke-width="1.25"/>
<polygon points="360.95,115.47 365.55,115.47 363.25,119.67" fill="none" stroke="#f0b000" stroke-width="1.25"/>
<polygon points="370,113.2 374.6,113.2 372.3,117.39" fill="none" stroke="#f0b000" stroke-width="1.25"/>
<polygon points="379.05,96.36 383.65,96.36 381.35,100.56" fill="none" stroke="#f0b000" stroke-width="1.25"/>
<polygon points="388.1,77.25 392.7,77.25 390.4,81.45" fill="none" stroke="#f0b000" stroke-width="1.25"/>
<polygon points="397.15,75.43 401.75,75.43 399.45,79.63" fill="none" stroke="#f0b000" stroke-width="1.25"/>
<polygon points="406.2,73.61 410.8,73.61 408.5,77.81" fill="none" stroke="#f0b000" stroke-width="1.25"/>
<path d="M45.6 136.1V185H108.8" fill="none" stroke="#9a9a9a" stroke-width="0.9"/>
<path d="M45.6 184.5H47.5" stroke="#808080" stroke-width="1.3"/>
<path d="M45.6 161.45H47.5" stroke="#808080" stroke-width="1.3"/>
<path d="M45.6 138.4H47.5" stroke="#808080" stroke-width="1.3"/>
<text x="43.3" y="187.7" text-anchor="end" class="tk">0</text>
<text x="43.3" y="164.65" text-anchor="end" class="tk">50</text>
<text x="43.3" y="141.6" text-anchor="end" class="tk">100</text>
<polyline points="50.1,138.4 59.15,138.4 68.2,138.4 77.25,144.39 86.3,168.83 95.35,184.04 104.4,184.5" fill="none" stroke="#6aa823" stroke-width="1.4" stroke-linejoin="round"/>
<circle cx="50.1" cy="138.4" r="2.15" fill="none" stroke="#6aa823" stroke-width="1.25"/>
<circle cx="59.15" cy="138.4" r="2.15" fill="none" stroke="#6aa823" stroke-width="1.25"/>
<circle cx="68.2" cy="138.4" r="2.15" fill="none" stroke="#6aa823" stroke-width="1.25"/>
<circle cx="77.25" cy="144.39" r="2.15" fill="none" stroke="#6aa823" stroke-width="1.25"/>
<circle cx="86.3" cy="168.83" r="2.15" fill="none" stroke="#6aa823" stroke-width="1.25"/>
<circle cx="95.35" cy="184.04" r="2.15" fill="none" stroke="#6aa823" stroke-width="1.25"/>
<circle cx="104.4" cy="184.5" r="2.15" fill="none" stroke="#6aa823" stroke-width="1.25"/>
<polyline points="50.1,184.5 59.15,184.5 68.2,184.5 77.25,184.5 86.3,184.5 95.35,184.5 104.4,184.5" fill="none" stroke="#3fb9ee" stroke-width="1.4" stroke-linejoin="round"/>
<rect x="48.25" y="182.65" width="3.7" height="3.7" fill="none" stroke="#3fb9ee" stroke-width="1.25"/>
<rect x="57.3" y="182.65" width="3.7" height="3.7" fill="none" stroke="#3fb9ee" stroke-width="1.25"/>
<rect x="66.35" y="182.65" width="3.7" height="3.7" fill="none" stroke="#3fb9ee" stroke-width="1.25"/>
<rect x="75.4" y="182.65" width="3.7" height="3.7" fill="none" stroke="#3fb9ee" stroke-width="1.25"/>
<rect x="84.45" y="182.65" width="3.7" height="3.7" fill="none" stroke="#3fb9ee" stroke-width="1.25"/>
<rect x="93.5" y="182.65" width="3.7" height="3.7" fill="none" stroke="#3fb9ee" stroke-width="1.25"/>
<rect x="102.55" y="182.65" width="3.7" height="3.7" fill="none" stroke="#3fb9ee" stroke-width="1.25"/>
<polyline points="50.1,184.5 59.15,184.5 68.2,184.5 77.25,178.51 86.3,153.61 95.35,138.86 104.4,138.86" fill="none" stroke="#0068c4" stroke-width="1.4" stroke-linejoin="round"/>
<polygon points="48.5,182.2 52.7,184.5 48.5,186.8" fill="none" stroke="#0068c4" stroke-width="1.25"/>
<polygon points="57.55,182.2 61.75,184.5 57.55,186.8" fill="none" stroke="#0068c4" stroke-width="1.25"/>
<polygon points="66.6,182.2 70.8,184.5 66.6,186.8" fill="none" stroke="#0068c4" stroke-width="1.25"/>
<polygon points="75.65,176.21 79.85,178.51 75.65,180.81" fill="none" stroke="#0068c4" stroke-width="1.25"/>
<polygon points="84.7,151.31 88.9,153.61 84.7,155.91" fill="none" stroke="#0068c4" stroke-width="1.25"/>
<polygon points="93.75,136.56 97.95,138.86 93.75,141.16" fill="none" stroke="#0068c4" stroke-width="1.25"/>
<polygon points="102.8,136.56 107,138.86 102.8,141.16" fill="none" stroke="#0068c4" stroke-width="1.25"/>
<polyline points="50.1,184.5 59.15,184.5 68.2,184.5 77.25,184.5 86.3,184.5 95.35,184.5 104.4,184.5" fill="none" stroke="#a20f2c" stroke-width="1.4" stroke-linejoin="round"/>
<polygon points="51.7,182.2 47.5,184.5 51.7,186.8" fill="none" stroke="#a20f2c" stroke-width="1.25"/>
<polygon points="60.75,182.2 56.55,184.5 60.75,186.8" fill="none" stroke="#a20f2c" stroke-width="1.25"/>
<polygon points="69.8,182.2 65.6,184.5 69.8,186.8" fill="none" stroke="#a20f2c" stroke-width="1.25"/>
<polygon points="78.85,182.2 74.65,184.5 78.85,186.8" fill="none" stroke="#a20f2c" stroke-width="1.25"/>
<polygon points="87.9,182.2 83.7,184.5 87.9,186.8" fill="none" stroke="#a20f2c" stroke-width="1.25"/>
<polygon points="96.95,182.2 92.75,184.5 96.95,186.8" fill="none" stroke="#a20f2c" stroke-width="1.25"/>
<polygon points="106,182.2 101.8,184.5 106,186.8" fill="none" stroke="#a20f2c" stroke-width="1.25"/>
<polyline points="50.1,184.5 59.15,184.5 68.2,184.5 77.25,184.5 86.3,184.5 95.35,184.5 104.4,184.5" fill="none" stroke="#e04f10" stroke-width="1.4" stroke-linejoin="round"/>
<polygon points="50.1,181.7 52.2,184.5 50.1,187.3 48,184.5" fill="none" stroke="#e04f10" stroke-width="1.25"/>
<polygon points="59.15,181.7 61.25,184.5 59.15,187.3 57.05,184.5" fill="none" stroke="#e04f10" stroke-width="1.25"/>
<polygon points="68.2,181.7 70.3,184.5 68.2,187.3 66.1,184.5" fill="none" stroke="#e04f10" stroke-width="1.25"/>
<polygon points="77.25,181.7 79.35,184.5 77.25,187.3 75.15,184.5" fill="none" stroke="#e04f10" stroke-width="1.25"/>
<polygon points="86.3,181.7 88.4,184.5 86.3,187.3 84.2,184.5" fill="none" stroke="#e04f10" stroke-width="1.25"/>
<polygon points="95.35,181.7 97.45,184.5 95.35,187.3 93.25,184.5" fill="none" stroke="#e04f10" stroke-width="1.25"/>
<polygon points="104.4,181.7 106.5,184.5 104.4,187.3 102.3,184.5" fill="none" stroke="#e04f10" stroke-width="1.25"/>
<polyline points="50.1,184.5 59.15,184.5 68.2,184.5 77.25,184.5 86.3,184.5 95.35,184.5 104.4,184.5" fill="none" stroke="#8c8c8c" stroke-width="1.4" stroke-linejoin="round"/>
<polygon points="50.1,181.9 50.83,183.79 52.86,183.9 51.29,185.19 51.8,187.15 50.1,186.05 48.4,187.15 48.91,185.19 47.34,183.9 49.37,183.79" fill="#9a9a9a" stroke="#8c8c8c" stroke-width="0.5"/>
<polygon points="59.15,181.9 59.88,183.79 61.91,183.9 60.34,185.19 60.85,187.15 59.15,186.05 57.45,187.15 57.96,185.19 56.39,183.9 58.42,183.79" fill="#9a9a9a" stroke="#8c8c8c" stroke-width="0.5"/>
<polygon points="68.2,181.9 68.93,183.79 70.96,183.9 69.39,185.19 69.9,187.15 68.2,186.05 66.5,187.15 67.01,185.19 65.44,183.9 67.47,183.79" fill="#9a9a9a" stroke="#8c8c8c" stroke-width="0.5"/>
<polygon points="77.25,181.9 77.98,183.79 80.01,183.9 78.44,185.19 78.95,187.15 77.25,186.05 75.55,187.15 76.06,185.19 74.49,183.9 76.52,183.79" fill="#9a9a9a" stroke="#8c8c8c" stroke-width="0.5"/>
<polygon points="86.3,181.9 87.03,183.79 89.06,183.9 87.49,185.19 88,187.15 86.3,186.05 84.6,187.15 85.11,185.19 83.54,183.9 85.57,183.79" fill="#9a9a9a" stroke="#8c8c8c" stroke-width="0.5"/>
<polygon points="95.35,181.9 96.08,183.79 98.11,183.9 96.54,185.19 97.05,187.15 95.35,186.05 93.65,187.15 94.16,185.19 92.59,183.9 94.62,183.79" fill="#9a9a9a" stroke="#8c8c8c" stroke-width="0.5"/>
<polygon points="104.4,181.9 105.13,183.79 107.16,183.9 105.59,185.19 106.1,187.15 104.4,186.05 102.7,187.15 103.21,185.19 101.64,183.9 103.67,183.79" fill="#9a9a9a" stroke="#8c8c8c" stroke-width="0.5"/>
<polyline points="50.1,184.5 59.15,184.5 68.2,184.5 77.25,184.5 86.3,184.5 95.35,184.5 104.4,184.5" fill="none" stroke="#f0b000" stroke-width="1.4" stroke-linejoin="round"/>
<polygon points="47.8,182.9 52.4,182.9 50.1,187.1" fill="none" stroke="#f0b000" stroke-width="1.25"/>
<polygon points="56.85,182.9 61.45,182.9 59.15,187.1" fill="none" stroke="#f0b000" stroke-width="1.25"/>
<polygon points="65.9,182.9 70.5,182.9 68.2,187.1" fill="none" stroke="#f0b000" stroke-width="1.25"/>
<polygon points="74.95,182.9 79.55,182.9 77.25,187.1" fill="none" stroke="#f0b000" stroke-width="1.25"/>
<polygon points="84,182.9 88.6,182.9 86.3,187.1" fill="none" stroke="#f0b000" stroke-width="1.25"/>
<polygon points="93.05,182.9 97.65,182.9 95.35,187.1" fill="none" stroke="#f0b000" stroke-width="1.25"/>
<polygon points="102.1,182.9 106.7,182.9 104.4,187.1" fill="none" stroke="#f0b000" stroke-width="1.25"/>
<path d="M121.4 136.1V185H184.6" fill="none" stroke="#9a9a9a" stroke-width="0.9"/>
<path d="M121.4 184.5H123.3" stroke="#808080" stroke-width="1.3"/>
<path d="M121.4 161.45H123.3" stroke="#808080" stroke-width="1.3"/>
<path d="M121.4 138.4H123.3" stroke="#808080" stroke-width="1.3"/>
<polyline points="125.9,138.4 134.95,138.4 144,138.4 153.05,138.4 162.1,138.4" fill="none" stroke="#6aa823" stroke-width="1.4" stroke-linejoin="round"/>
<circle cx="125.9" cy="138.4" r="2.15" fill="none" stroke="#6aa823" stroke-width="1.25"/>
<circle cx="134.95" cy="138.4" r="2.15" fill="none" stroke="#6aa823" stroke-width="1.25"/>
<circle cx="144" cy="138.4" r="2.15" fill="none" stroke="#6aa823" stroke-width="1.25"/>
<circle cx="153.05" cy="138.4" r="2.15" fill="none" stroke="#6aa823" stroke-width="1.25"/>
<circle cx="162.1" cy="138.4" r="2.15" fill="none" stroke="#6aa823" stroke-width="1.25"/>
<circle cx="180.2" cy="184.5" r="2.15" fill="none" stroke="#6aa823" stroke-width="1.25"/>
<polyline points="125.9,184.5 134.95,184.5 144,184.5 153.05,184.5 162.1,184.5" fill="none" stroke="#3fb9ee" stroke-width="1.4" stroke-linejoin="round"/>
<rect x="124.05" y="182.65" width="3.7" height="3.7" fill="none" stroke="#3fb9ee" stroke-width="1.25"/>
<rect x="133.1" y="182.65" width="3.7" height="3.7" fill="none" stroke="#3fb9ee" stroke-width="1.25"/>
<rect x="142.15" y="182.65" width="3.7" height="3.7" fill="none" stroke="#3fb9ee" stroke-width="1.25"/>
<rect x="151.2" y="182.65" width="3.7" height="3.7" fill="none" stroke="#3fb9ee" stroke-width="1.25"/>
<rect x="160.25" y="182.65" width="3.7" height="3.7" fill="none" stroke="#3fb9ee" stroke-width="1.25"/>
<rect x="178.35" y="182.65" width="3.7" height="3.7" fill="none" stroke="#3fb9ee" stroke-width="1.25"/>
<polyline points="125.9,184.5 134.95,184.5 144,184.5 153.05,184.5 162.1,184.5" fill="none" stroke="#0068c4" stroke-width="1.4" stroke-linejoin="round"/>
<polygon points="124.3,182.2 128.5,184.5 124.3,186.8" fill="none" stroke="#0068c4" stroke-width="1.25"/>
<polygon points="133.35,182.2 137.55,184.5 133.35,186.8" fill="none" stroke="#0068c4" stroke-width="1.25"/>
<polygon points="142.4,182.2 146.6,184.5 142.4,186.8" fill="none" stroke="#0068c4" stroke-width="1.25"/>
<polygon points="151.45,182.2 155.65,184.5 151.45,186.8" fill="none" stroke="#0068c4" stroke-width="1.25"/>
<polygon points="160.5,182.2 164.7,184.5 160.5,186.8" fill="none" stroke="#0068c4" stroke-width="1.25"/>
<polygon points="178.6,182.2 182.8,184.5 178.6,186.8" fill="none" stroke="#0068c4" stroke-width="1.25"/>
<polyline points="125.9,184.5 134.95,184.5 144,184.5 153.05,184.5 162.1,184.5" fill="none" stroke="#a20f2c" stroke-width="1.4" stroke-linejoin="round"/>
<polygon points="127.5,182.2 123.3,184.5 127.5,186.8" fill="none" stroke="#a20f2c" stroke-width="1.25"/>
<polygon points="136.55,182.2 132.35,184.5 136.55,186.8" fill="none" stroke="#a20f2c" stroke-width="1.25"/>
<polygon points="145.6,182.2 141.4,184.5 145.6,186.8" fill="none" stroke="#a20f2c" stroke-width="1.25"/>
<polygon points="154.65,182.2 150.45,184.5 154.65,186.8" fill="none" stroke="#a20f2c" stroke-width="1.25"/>
<polygon points="163.7,182.2 159.5,184.5 163.7,186.8" fill="none" stroke="#a20f2c" stroke-width="1.25"/>
<polygon points="181.8,182.2 177.6,184.5 181.8,186.8" fill="none" stroke="#a20f2c" stroke-width="1.25"/>
<polyline points="125.9,184.5 134.95,184.5 144,184.5 153.05,184.5 162.1,184.5" fill="none" stroke="#e04f10" stroke-width="1.4" stroke-linejoin="round"/>
<polygon points="125.9,181.7 128,184.5 125.9,187.3 123.8,184.5" fill="none" stroke="#e04f10" stroke-width="1.25"/>
<polygon points="134.95,181.7 137.05,184.5 134.95,187.3 132.85,184.5" fill="none" stroke="#e04f10" stroke-width="1.25"/>
<polygon points="144,181.7 146.1,184.5 144,187.3 141.9,184.5" fill="none" stroke="#e04f10" stroke-width="1.25"/>
<polygon points="153.05,181.7 155.15,184.5 153.05,187.3 150.95,184.5" fill="none" stroke="#e04f10" stroke-width="1.25"/>
<polygon points="162.1,181.7 164.2,184.5 162.1,187.3 160,184.5" fill="none" stroke="#e04f10" stroke-width="1.25"/>
<polygon points="180.2,135.6 182.3,138.4 180.2,141.2 178.1,138.4" fill="none" stroke="#e04f10" stroke-width="1.25"/>
<polyline points="125.9,184.5 134.95,184.5 144,184.5 153.05,184.5 162.1,184.5 171.15,184.5 180.2,184.5" fill="none" stroke="#b0b0b0" stroke-width="0.6" stroke-linejoin="round"/>
<polygon points="125.9,182.68 126.41,184 127.83,184.08 126.73,184.98 127.09,186.35 125.9,185.59 124.71,186.35 125.07,184.98 123.97,184.08 125.39,184" fill="#9a9a9a" stroke="#b0b0b0" stroke-width="0.5"/>
<polygon points="134.95,182.68 135.46,184 136.88,184.08 135.78,184.98 136.14,186.35 134.95,185.59 133.76,186.35 134.12,184.98 133.02,184.08 134.44,184" fill="#9a9a9a" stroke="#b0b0b0" stroke-width="0.5"/>
<polygon points="144,182.68 144.51,184 145.93,184.08 144.83,184.98 145.19,186.35 144,185.59 142.81,186.35 143.17,184.98 142.07,184.08 143.49,184" fill="#9a9a9a" stroke="#b0b0b0" stroke-width="0.5"/>
<polygon points="153.05,182.68 153.56,184 154.98,184.08 153.88,184.98 154.24,186.35 153.05,185.59 151.86,186.35 152.22,184.98 151.12,184.08 152.54,184" fill="#9a9a9a" stroke="#b0b0b0" stroke-width="0.5"/>
<polygon points="162.1,182.68 162.61,184 164.03,184.08 162.93,184.98 163.29,186.35 162.1,185.59 160.91,186.35 161.27,184.98 160.17,184.08 161.59,184" fill="#9a9a9a" stroke="#b0b0b0" stroke-width="0.5"/>
<polygon points="171.15,182.68 171.66,184 173.08,184.08 171.98,184.98 172.34,186.35 171.15,185.59 169.96,186.35 170.32,184.98 169.22,184.08 170.64,184" fill="#9a9a9a" stroke="#b0b0b0" stroke-width="0.5"/>
<polygon points="180.2,182.68 180.71,184 182.13,184.08 181.03,184.98 181.39,186.35 180.2,185.59 179.01,186.35 179.37,184.98 178.27,184.08 179.69,184" fill="#9a9a9a" stroke="#b0b0b0" stroke-width="0.5"/>
<polyline points="125.9,184.5 134.95,184.5 144,184.5 153.05,184.5 162.1,184.5" fill="none" stroke="#f0b000" stroke-width="1.4" stroke-linejoin="round"/>
<polygon points="123.6,182.9 128.2,182.9 125.9,187.1" fill="none" stroke="#f0b000" stroke-width="1.25"/>
<polygon points="132.65,182.9 137.25,182.9 134.95,187.1" fill="none" stroke="#f0b000" stroke-width="1.25"/>
<polygon points="141.7,182.9 146.3,182.9 144,187.1" fill="none" stroke="#f0b000" stroke-width="1.25"/>
<polygon points="150.75,182.9 155.35,182.9 153.05,187.1" fill="none" stroke="#f0b000" stroke-width="1.25"/>
<polygon points="159.8,182.9 164.4,182.9 162.1,187.1" fill="none" stroke="#f0b000" stroke-width="1.25"/>
<polygon points="177.9,182.9 182.5,182.9 180.2,187.1" fill="none" stroke="#f0b000" stroke-width="1.25"/>
<path d="M197.5 136.1V185H260.7" fill="none" stroke="#9a9a9a" stroke-width="0.9"/>
<path d="M197.5 184.5H199.4" stroke="#808080" stroke-width="1.3"/>
<path d="M197.5 161.45H199.4" stroke="#808080" stroke-width="1.3"/>
<path d="M197.5 138.4H199.4" stroke="#808080" stroke-width="1.3"/>
<polyline points="202,184.5 211.05,184.5 220.1,184.5 229.15,184.5 238.2,184.5 247.25,184.5 256.3,184.5" fill="none" stroke="#6aa823" stroke-width="1.4" stroke-linejoin="round"/>
<circle cx="202" cy="184.5" r="2.15" fill="none" stroke="#6aa823" stroke-width="1.25"/>
<circle cx="211.05" cy="184.5" r="2.15" fill="none" stroke="#6aa823" stroke-width="1.25"/>
<circle cx="220.1" cy="184.5" r="2.15" fill="none" stroke="#6aa823" stroke-width="1.25"/>
<circle cx="229.15" cy="184.5" r="2.15" fill="none" stroke="#6aa823" stroke-width="1.25"/>
<circle cx="238.2" cy="184.5" r="2.15" fill="none" stroke="#6aa823" stroke-width="1.25"/>
<circle cx="247.25" cy="184.5" r="2.15" fill="none" stroke="#6aa823" stroke-width="1.25"/>
<circle cx="256.3" cy="184.5" r="2.15" fill="none" stroke="#6aa823" stroke-width="1.25"/>
<polyline points="202,184.5 211.05,184.5 220.1,183.58 229.15,170.67 238.2,165.6 247.25,180.35 256.3,184.5" fill="none" stroke="#3fb9ee" stroke-width="1.4" stroke-linejoin="round"/>
<rect x="200.15" y="182.65" width="3.7" height="3.7" fill="none" stroke="#3fb9ee" stroke-width="1.25"/>
<rect x="209.2" y="182.65" width="3.7" height="3.7" fill="none" stroke="#3fb9ee" stroke-width="1.25"/>
<rect x="218.25" y="181.73" width="3.7" height="3.7" fill="none" stroke="#3fb9ee" stroke-width="1.25"/>
<rect x="227.3" y="168.82" width="3.7" height="3.7" fill="none" stroke="#3fb9ee" stroke-width="1.25"/>
<rect x="236.35" y="163.75" width="3.7" height="3.7" fill="none" stroke="#3fb9ee" stroke-width="1.25"/>
<rect x="245.4" y="178.5" width="3.7" height="3.7" fill="none" stroke="#3fb9ee" stroke-width="1.25"/>
<rect x="254.45" y="182.65" width="3.7" height="3.7" fill="none" stroke="#3fb9ee" stroke-width="1.25"/>
<polyline points="202,138.86 211.05,138.86 220.1,141.17 229.15,152.23 238.2,156.38 247.25,160.99 256.3,176.66" fill="none" stroke="#0068c4" stroke-width="1.4" stroke-linejoin="round"/>
<polygon points="200.4,136.56 204.6,138.86 200.4,141.16" fill="none" stroke="#0068c4" stroke-width="1.25"/>
<polygon points="209.45,136.56 213.65,138.86 209.45,141.16" fill="none" stroke="#0068c4" stroke-width="1.25"/>
<polygon points="218.5,138.87 222.7,141.17 218.5,143.47" fill="none" stroke="#0068c4" stroke-width="1.25"/>
<polygon points="227.55,149.93 231.75,152.23 227.55,154.53" fill="none" stroke="#0068c4" stroke-width="1.25"/>
<polygon points="236.6,154.08 240.8,156.38 236.6,158.68" fill="none" stroke="#0068c4" stroke-width="1.25"/>
<polygon points="245.65,158.69 249.85,160.99 245.65,163.29" fill="none" stroke="#0068c4" stroke-width="1.25"/>
<polygon points="254.7,174.36 258.9,176.66 254.7,178.96" fill="none" stroke="#0068c4" stroke-width="1.25"/>
<polyline points="202,184.5 211.05,184.5 220.1,184.5 229.15,184.5 238.2,184.5 247.25,184.5 256.3,184.5" fill="none" stroke="#a20f2c" stroke-width="1.4" stroke-linejoin="round"/>
<polygon points="203.6,182.2 199.4,184.5 203.6,186.8" fill="none" stroke="#a20f2c" stroke-width="1.25"/>
<polygon points="212.65,182.2 208.45,184.5 212.65,186.8" fill="none" stroke="#a20f2c" stroke-width="1.25"/>
<polygon points="221.7,182.2 217.5,184.5 221.7,186.8" fill="none" stroke="#a20f2c" stroke-width="1.25"/>
<polygon points="230.75,182.2 226.55,184.5 230.75,186.8" fill="none" stroke="#a20f2c" stroke-width="1.25"/>
<polygon points="239.8,182.2 235.6,184.5 239.8,186.8" fill="none" stroke="#a20f2c" stroke-width="1.25"/>
<polygon points="248.85,182.2 244.65,184.5 248.85,186.8" fill="none" stroke="#a20f2c" stroke-width="1.25"/>
<polygon points="257.9,182.2 253.7,184.5 257.9,186.8" fill="none" stroke="#a20f2c" stroke-width="1.25"/>
<polyline points="202,184.5 211.05,184.5 220.1,184.5 229.15,184.5 238.2,184.5 247.25,165.14 256.3,146.24" fill="none" stroke="#e04f10" stroke-width="1.4" stroke-linejoin="round"/>
<polygon points="202,181.7 204.1,184.5 202,187.3 199.9,184.5" fill="none" stroke="#e04f10" stroke-width="1.25"/>
<polygon points="211.05,181.7 213.15,184.5 211.05,187.3 208.95,184.5" fill="none" stroke="#e04f10" stroke-width="1.25"/>
<polygon points="220.1,181.7 222.2,184.5 220.1,187.3 218,184.5" fill="none" stroke="#e04f10" stroke-width="1.25"/>
<polygon points="229.15,181.7 231.25,184.5 229.15,187.3 227.05,184.5" fill="none" stroke="#e04f10" stroke-width="1.25"/>
<polygon points="238.2,181.7 240.3,184.5 238.2,187.3 236.1,184.5" fill="none" stroke="#e04f10" stroke-width="1.25"/>
<polygon points="247.25,162.34 249.35,165.14 247.25,167.94 245.15,165.14" fill="none" stroke="#e04f10" stroke-width="1.25"/>
<polygon points="256.3,143.44 258.4,146.24 256.3,149.04 254.2,146.24" fill="none" stroke="#e04f10" stroke-width="1.25"/>
<polyline points="202,184.5 211.05,184.5 220.1,184.5 229.15,184.5 238.2,184.5 247.25,184.5 256.3,184.5" fill="none" stroke="#8c8c8c" stroke-width="1.4" stroke-linejoin="round"/>
<polygon points="202,181.9 202.73,183.79 204.76,183.9 203.19,185.19 203.7,187.15 202,186.05 200.3,187.15 200.81,185.19 199.24,183.9 201.27,183.79" fill="#9a9a9a" stroke="#8c8c8c" stroke-width="0.5"/>
<polygon points="211.05,181.9 211.78,183.79 213.81,183.9 212.24,185.19 212.75,187.15 211.05,186.05 209.35,187.15 209.86,185.19 208.29,183.9 210.32,183.79" fill="#9a9a9a" stroke="#8c8c8c" stroke-width="0.5"/>
<polygon points="220.1,181.9 220.83,183.79 222.86,183.9 221.29,185.19 221.8,187.15 220.1,186.05 218.4,187.15 218.91,185.19 217.34,183.9 219.37,183.79" fill="#9a9a9a" stroke="#8c8c8c" stroke-width="0.5"/>
<polygon points="229.15,181.9 229.88,183.79 231.91,183.9 230.34,185.19 230.85,187.15 229.15,186.05 227.45,187.15 227.96,185.19 226.39,183.9 228.42,183.79" fill="#9a9a9a" stroke="#8c8c8c" stroke-width="0.5"/>
<polygon points="238.2,181.9 238.93,183.79 240.96,183.9 239.39,185.19 239.9,187.15 238.2,186.05 236.5,187.15 237.01,185.19 235.44,183.9 237.47,183.79" fill="#9a9a9a" stroke="#8c8c8c" stroke-width="0.5"/>
<polygon points="247.25,181.9 247.98,183.79 250.01,183.9 248.44,185.19 248.95,187.15 247.25,186.05 245.55,187.15 246.06,185.19 244.49,183.9 246.52,183.79" fill="#9a9a9a" stroke="#8c8c8c" stroke-width="0.5"/>
<polygon points="256.3,181.9 257.03,183.79 259.06,183.9 257.49,185.19 258,187.15 256.3,186.05 254.6,187.15 255.11,185.19 253.54,183.9 255.57,183.79" fill="#9a9a9a" stroke="#8c8c8c" stroke-width="0.5"/>
<polyline points="202,184.5 211.05,184.5 220.1,184.5 229.15,184.5 238.2,184.5 247.25,184.5 256.3,184.5" fill="none" stroke="#f0b000" stroke-width="1.4" stroke-linejoin="round"/>
<polygon points="199.7,182.9 204.3,182.9 202,187.1" fill="none" stroke="#f0b000" stroke-width="1.25"/>
<polygon points="208.75,182.9 213.35,182.9 211.05,187.1" fill="none" stroke="#f0b000" stroke-width="1.25"/>
<polygon points="217.8,182.9 222.4,182.9 220.1,187.1" fill="none" stroke="#f0b000" stroke-width="1.25"/>
<polygon points="226.85,182.9 231.45,182.9 229.15,187.1" fill="none" stroke="#f0b000" stroke-width="1.25"/>
<polygon points="235.9,182.9 240.5,182.9 238.2,187.1" fill="none" stroke="#f0b000" stroke-width="1.25"/>
<polygon points="244.95,182.9 249.55,182.9 247.25,187.1" fill="none" stroke="#f0b000" stroke-width="1.25"/>
<polygon points="254,182.9 258.6,182.9 256.3,187.1" fill="none" stroke="#f0b000" stroke-width="1.25"/>
<path d="M274.5 136.1V185H337.7" fill="none" stroke="#9a9a9a" stroke-width="0.9"/>
<path d="M274.5 184.5H276.4" stroke="#808080" stroke-width="1.3"/>
<path d="M274.5 161.45H276.4" stroke="#808080" stroke-width="1.3"/>
<path d="M274.5 138.4H276.4" stroke="#808080" stroke-width="1.3"/>
<polyline points="279,184.5 288.05,184.5 297.1,184.5 306.15,184.5 315.2,184.5 324.25,184.5 333.3,184.5" fill="none" stroke="#6aa823" stroke-width="1.4" stroke-linejoin="round"/>
<circle cx="279" cy="184.5" r="2.15" fill="none" stroke="#6aa823" stroke-width="1.25"/>
<circle cx="288.05" cy="184.5" r="2.15" fill="none" stroke="#6aa823" stroke-width="1.25"/>
<circle cx="297.1" cy="184.5" r="2.15" fill="none" stroke="#6aa823" stroke-width="1.25"/>
<circle cx="306.15" cy="184.5" r="2.15" fill="none" stroke="#6aa823" stroke-width="1.25"/>
<circle cx="315.2" cy="184.5" r="2.15" fill="none" stroke="#6aa823" stroke-width="1.25"/>
<circle cx="324.25" cy="184.5" r="2.15" fill="none" stroke="#6aa823" stroke-width="1.25"/>
<circle cx="333.3" cy="184.5" r="2.15" fill="none" stroke="#6aa823" stroke-width="1.25"/>
<polyline points="279,184.5 288.05,184.5 297.1,163.75 306.15,143.01 315.2,138.4 324.25,138.4 333.3,138.4" fill="none" stroke="#3fb9ee" stroke-width="1.4" stroke-linejoin="round"/>
<rect x="277.15" y="182.65" width="3.7" height="3.7" fill="none" stroke="#3fb9ee" stroke-width="1.25"/>
<rect x="286.2" y="182.65" width="3.7" height="3.7" fill="none" stroke="#3fb9ee" stroke-width="1.25"/>
<rect x="295.25" y="161.91" width="3.7" height="3.7" fill="none" stroke="#3fb9ee" stroke-width="1.25"/>
<rect x="304.3" y="141.16" width="3.7" height="3.7" fill="none" stroke="#3fb9ee" stroke-width="1.25"/>
<rect x="313.35" y="136.55" width="3.7" height="3.7" fill="none" stroke="#3fb9ee" stroke-width="1.25"/>
<rect x="322.4" y="136.55" width="3.7" height="3.7" fill="none" stroke="#3fb9ee" stroke-width="1.25"/>
<rect x="331.45" y="136.55" width="3.7" height="3.7" fill="none" stroke="#3fb9ee" stroke-width="1.25"/>
<polyline points="279,138.86 288.05,138.86 297.1,159.15 306.15,179.89 315.2,184.5 324.25,184.5 333.3,184.5" fill="none" stroke="#0068c4" stroke-width="1.4" stroke-linejoin="round"/>
<polygon points="277.4,136.56 281.6,138.86 277.4,141.16" fill="none" stroke="#0068c4" stroke-width="1.25"/>
<polygon points="286.45,136.56 290.65,138.86 286.45,141.16" fill="none" stroke="#0068c4" stroke-width="1.25"/>
<polygon points="295.5,156.84 299.7,159.15 295.5,161.45" fill="none" stroke="#0068c4" stroke-width="1.25"/>
<polygon points="304.55,177.59 308.75,179.89 304.55,182.19" fill="none" stroke="#0068c4" stroke-width="1.25"/>
<polygon points="313.6,182.2 317.8,184.5 313.6,186.8" fill="none" stroke="#0068c4" stroke-width="1.25"/>
<polygon points="322.65,182.2 326.85,184.5 322.65,186.8" fill="none" stroke="#0068c4" stroke-width="1.25"/>
<polygon points="331.7,182.2 335.9,184.5 331.7,186.8" fill="none" stroke="#0068c4" stroke-width="1.25"/>
<polyline points="279,184.5 288.05,184.5 297.1,184.5 306.15,184.5 315.2,184.5 324.25,184.5 333.3,184.5" fill="none" stroke="#a20f2c" stroke-width="1.4" stroke-linejoin="round"/>
<polygon points="280.6,182.2 276.4,184.5 280.6,186.8" fill="none" stroke="#a20f2c" stroke-width="1.25"/>
<polygon points="289.65,182.2 285.45,184.5 289.65,186.8" fill="none" stroke="#a20f2c" stroke-width="1.25"/>
<polygon points="298.7,182.2 294.5,184.5 298.7,186.8" fill="none" stroke="#a20f2c" stroke-width="1.25"/>
<polygon points="307.75,182.2 303.55,184.5 307.75,186.8" fill="none" stroke="#a20f2c" stroke-width="1.25"/>
<polygon points="316.8,182.2 312.6,184.5 316.8,186.8" fill="none" stroke="#a20f2c" stroke-width="1.25"/>
<polygon points="325.85,182.2 321.65,184.5 325.85,186.8" fill="none" stroke="#a20f2c" stroke-width="1.25"/>
<polygon points="334.9,182.2 330.7,184.5 334.9,186.8" fill="none" stroke="#a20f2c" stroke-width="1.25"/>
<polyline points="279,184.5 288.05,184.5 297.1,184.5 306.15,184.5 315.2,184.5 324.25,184.5 333.3,184.5" fill="none" stroke="#e04f10" stroke-width="1.4" stroke-linejoin="round"/>
<polygon points="279,181.7 281.1,184.5 279,187.3 276.9,184.5" fill="none" stroke="#e04f10" stroke-width="1.25"/>
<polygon points="288.05,181.7 290.15,184.5 288.05,187.3 285.95,184.5" fill="none" stroke="#e04f10" stroke-width="1.25"/>
<polygon points="297.1,181.7 299.2,184.5 297.1,187.3 295,184.5" fill="none" stroke="#e04f10" stroke-width="1.25"/>
<polygon points="306.15,181.7 308.25,184.5 306.15,187.3 304.05,184.5" fill="none" stroke="#e04f10" stroke-width="1.25"/>
<polygon points="315.2,181.7 317.3,184.5 315.2,187.3 313.1,184.5" fill="none" stroke="#e04f10" stroke-width="1.25"/>
<polygon points="324.25,181.7 326.35,184.5 324.25,187.3 322.15,184.5" fill="none" stroke="#e04f10" stroke-width="1.25"/>
<polygon points="333.3,181.7 335.4,184.5 333.3,187.3 331.2,184.5" fill="none" stroke="#e04f10" stroke-width="1.25"/>
<polyline points="279,184.5 288.05,184.5 297.1,184.5 306.15,184.5 315.2,184.5 324.25,184.5 333.3,184.5" fill="none" stroke="#8c8c8c" stroke-width="1.4" stroke-linejoin="round"/>
<polygon points="279,181.9 279.73,183.79 281.76,183.9 280.19,185.19 280.7,187.15 279,186.05 277.3,187.15 277.81,185.19 276.24,183.9 278.27,183.79" fill="#9a9a9a" stroke="#8c8c8c" stroke-width="0.5"/>
<polygon points="288.05,181.9 288.78,183.79 290.81,183.9 289.24,185.19 289.75,187.15 288.05,186.05 286.35,187.15 286.86,185.19 285.29,183.9 287.32,183.79" fill="#9a9a9a" stroke="#8c8c8c" stroke-width="0.5"/>
<polygon points="297.1,181.9 297.83,183.79 299.86,183.9 298.29,185.19 298.8,187.15 297.1,186.05 295.4,187.15 295.91,185.19 294.34,183.9 296.37,183.79" fill="#9a9a9a" stroke="#8c8c8c" stroke-width="0.5"/>
<polygon points="306.15,181.9 306.88,183.79 308.91,183.9 307.34,185.19 307.85,187.15 306.15,186.05 304.45,187.15 304.96,185.19 303.39,183.9 305.42,183.79" fill="#9a9a9a" stroke="#8c8c8c" stroke-width="0.5"/>
<polygon points="315.2,181.9 315.93,183.79 317.96,183.9 316.39,185.19 316.9,187.15 315.2,186.05 313.5,187.15 314.01,185.19 312.44,183.9 314.47,183.79" fill="#9a9a9a" stroke="#8c8c8c" stroke-width="0.5"/>
<polygon points="324.25,181.9 324.98,183.79 327.01,183.9 325.44,185.19 325.95,187.15 324.25,186.05 322.55,187.15 323.06,185.19 321.49,183.9 323.52,183.79" fill="#9a9a9a" stroke="#8c8c8c" stroke-width="0.5"/>
<polygon points="333.3,181.9 334.03,183.79 336.06,183.9 334.49,185.19 335,187.15 333.3,186.05 331.6,187.15 332.11,185.19 330.54,183.9 332.57,183.79" fill="#9a9a9a" stroke="#8c8c8c" stroke-width="0.5"/>
<polyline points="279,184.5 288.05,184.5 297.1,184.5 306.15,184.5 315.2,184.5 324.25,184.5 333.3,184.5" fill="none" stroke="#f0b000" stroke-width="1.4" stroke-linejoin="round"/>
<polygon points="276.7,182.9 281.3,182.9 279,187.1" fill="none" stroke="#f0b000" stroke-width="1.25"/>
<polygon points="285.75,182.9 290.35,182.9 288.05,187.1" fill="none" stroke="#f0b000" stroke-width="1.25"/>
<polygon points="294.8,182.9 299.4,182.9 297.1,187.1" fill="none" stroke="#f0b000" stroke-width="1.25"/>
<polygon points="303.85,182.9 308.45,182.9 306.15,187.1" fill="none" stroke="#f0b000" stroke-width="1.25"/>
<polygon points="312.9,182.9 317.5,182.9 315.2,187.1" fill="none" stroke="#f0b000" stroke-width="1.25"/>
<polygon points="321.95,182.9 326.55,182.9 324.25,187.1" fill="none" stroke="#f0b000" stroke-width="1.25"/>
<polygon points="331,182.9 335.6,182.9 333.3,187.1" fill="none" stroke="#f0b000" stroke-width="1.25"/>
<path d="M350.9 136.1V185H414.1" fill="none" stroke="#9a9a9a" stroke-width="0.9"/>
<path d="M350.9 184.5H352.8" stroke="#808080" stroke-width="1.3"/>
<path d="M350.9 161.45H352.8" stroke="#808080" stroke-width="1.3"/>
<path d="M350.9 138.4H352.8" stroke="#808080" stroke-width="1.3"/>
<polyline points="355.4,184.5 364.45,184.5 373.5,184.5 382.55,184.5 391.6,184.5 400.65,184.5 409.7,184.5" fill="none" stroke="#6aa823" stroke-width="1.4" stroke-linejoin="round"/>
<circle cx="355.4" cy="184.5" r="2.15" fill="none" stroke="#6aa823" stroke-width="1.25"/>
<circle cx="364.45" cy="184.5" r="2.15" fill="none" stroke="#6aa823" stroke-width="1.25"/>
<circle cx="373.5" cy="184.5" r="2.15" fill="none" stroke="#6aa823" stroke-width="1.25"/>
<circle cx="382.55" cy="184.5" r="2.15" fill="none" stroke="#6aa823" stroke-width="1.25"/>
<circle cx="391.6" cy="184.5" r="2.15" fill="none" stroke="#6aa823" stroke-width="1.25"/>
<circle cx="400.65" cy="184.5" r="2.15" fill="none" stroke="#6aa823" stroke-width="1.25"/>
<circle cx="409.7" cy="184.5" r="2.15" fill="none" stroke="#6aa823" stroke-width="1.25"/>
<polyline points="355.4,184.5 364.45,184.5 373.5,184.5 382.55,184.5 391.6,184.5 400.65,184.5 409.7,184.5" fill="none" stroke="#3fb9ee" stroke-width="1.4" stroke-linejoin="round"/>
<rect x="353.55" y="182.65" width="3.7" height="3.7" fill="none" stroke="#3fb9ee" stroke-width="1.25"/>
<rect x="362.6" y="182.65" width="3.7" height="3.7" fill="none" stroke="#3fb9ee" stroke-width="1.25"/>
<rect x="371.65" y="182.65" width="3.7" height="3.7" fill="none" stroke="#3fb9ee" stroke-width="1.25"/>
<rect x="380.7" y="182.65" width="3.7" height="3.7" fill="none" stroke="#3fb9ee" stroke-width="1.25"/>
<rect x="389.75" y="182.65" width="3.7" height="3.7" fill="none" stroke="#3fb9ee" stroke-width="1.25"/>
<rect x="398.8" y="182.65" width="3.7" height="3.7" fill="none" stroke="#3fb9ee" stroke-width="1.25"/>
<rect x="407.85" y="182.65" width="3.7" height="3.7" fill="none" stroke="#3fb9ee" stroke-width="1.25"/>
<polyline points="355.4,184.5 364.45,184.5 373.5,184.5 382.55,184.5 391.6,184.5 400.65,184.5 409.7,184.5" fill="none" stroke="#0068c4" stroke-width="1.4" stroke-linejoin="round"/>
<polygon points="353.8,182.2 358,184.5 353.8,186.8" fill="none" stroke="#0068c4" stroke-width="1.25"/>
<polygon points="362.85,182.2 367.05,184.5 362.85,186.8" fill="none" stroke="#0068c4" stroke-width="1.25"/>
<polygon points="371.9,182.2 376.1,184.5 371.9,186.8" fill="none" stroke="#0068c4" stroke-width="1.25"/>
<polygon points="380.95,182.2 385.15,184.5 380.95,186.8" fill="none" stroke="#0068c4" stroke-width="1.25"/>
<polygon points="390,182.2 394.2,184.5 390,186.8" fill="none" stroke="#0068c4" stroke-width="1.25"/>
<polygon points="399.05,182.2 403.25,184.5 399.05,186.8" fill="none" stroke="#0068c4" stroke-width="1.25"/>
<polygon points="408.1,182.2 412.3,184.5 408.1,186.8" fill="none" stroke="#0068c4" stroke-width="1.25"/>
<polyline points="355.4,184.5 364.45,184.5 373.5,184.5 382.55,184.5 391.6,184.5 400.65,184.5 409.7,184.5" fill="none" stroke="#a20f2c" stroke-width="1.4" stroke-linejoin="round"/>
<polygon points="357,182.2 352.8,184.5 357,186.8" fill="none" stroke="#a20f2c" stroke-width="1.25"/>
<polygon points="366.05,182.2 361.85,184.5 366.05,186.8" fill="none" stroke="#a20f2c" stroke-width="1.25"/>
<polygon points="375.1,182.2 370.9,184.5 375.1,186.8" fill="none" stroke="#a20f2c" stroke-width="1.25"/>
<polygon points="384.15,182.2 379.95,184.5 384.15,186.8" fill="none" stroke="#a20f2c" stroke-width="1.25"/>
<polygon points="393.2,182.2 389,184.5 393.2,186.8" fill="none" stroke="#a20f2c" stroke-width="1.25"/>
<polygon points="402.25,182.2 398.05,184.5 402.25,186.8" fill="none" stroke="#a20f2c" stroke-width="1.25"/>
<polygon points="411.3,182.2 407.1,184.5 411.3,186.8" fill="none" stroke="#a20f2c" stroke-width="1.25"/>
<polyline points="355.4,139.32 364.45,141.17 373.5,159.15 382.55,180.35 391.6,184.5 400.65,184.5 409.7,184.5" fill="none" stroke="#e04f10" stroke-width="1.4" stroke-linejoin="round"/>
<polygon points="355.4,136.52 357.5,139.32 355.4,142.12 353.3,139.32" fill="none" stroke="#e04f10" stroke-width="1.25"/>
<polygon points="364.45,138.37 366.55,141.17 364.45,143.97 362.35,141.17" fill="none" stroke="#e04f10" stroke-width="1.25"/>
<polygon points="373.5,156.34 375.6,159.15 373.5,161.95 371.4,159.15" fill="none" stroke="#e04f10" stroke-width="1.25"/>
<polygon points="382.55,177.55 384.65,180.35 382.55,183.15 380.45,180.35" fill="none" stroke="#e04f10" stroke-width="1.25"/>
<polygon points="391.6,181.7 393.7,184.5 391.6,187.3 389.5,184.5" fill="none" stroke="#e04f10" stroke-width="1.25"/>
<polygon points="400.65,181.7 402.75,184.5 400.65,187.3 398.55,184.5" fill="none" stroke="#e04f10" stroke-width="1.25"/>
<polygon points="409.7,181.7 411.8,184.5 409.7,187.3 407.6,184.5" fill="none" stroke="#e04f10" stroke-width="1.25"/>
<polyline points="355.4,184.5 364.45,182.66 373.5,177.59 382.55,172.97 391.6,184.5 400.65,184.04 409.7,184.5" fill="none" stroke="#8c8c8c" stroke-width="1.4" stroke-linejoin="round"/>
<polygon points="355.4,181.9 356.13,183.79 358.16,183.9 356.59,185.19 357.1,187.15 355.4,186.05 353.7,187.15 354.21,185.19 352.64,183.9 354.67,183.79" fill="#9a9a9a" stroke="#8c8c8c" stroke-width="0.5"/>
<polygon points="364.45,180.06 365.18,181.94 367.21,182.06 365.64,183.34 366.15,185.3 364.45,184.21 362.75,185.3 363.26,183.34 361.69,182.06 363.72,181.94" fill="#9a9a9a" stroke="#8c8c8c" stroke-width="0.5"/>
<polygon points="373.5,174.99 374.23,176.87 376.26,176.99 374.69,178.27 375.2,180.23 373.5,179.14 371.8,180.23 372.31,178.27 370.74,176.99 372.77,176.87" fill="#9a9a9a" stroke="#8c8c8c" stroke-width="0.5"/>
<polygon points="382.55,170.38 383.28,172.26 385.31,172.38 383.74,173.66 384.25,175.62 382.55,174.53 380.85,175.62 381.36,173.66 379.79,172.38 381.82,172.26" fill="#9a9a9a" stroke="#8c8c8c" stroke-width="0.5"/>
<polygon points="391.6,181.9 392.33,183.79 394.36,183.9 392.79,185.19 393.3,187.15 391.6,186.05 389.9,187.15 390.41,185.19 388.84,183.9 390.87,183.79" fill="#9a9a9a" stroke="#8c8c8c" stroke-width="0.5"/>
<polygon points="400.65,181.44 401.38,183.33 403.41,183.44 401.84,184.73 402.35,186.69 400.65,185.59 398.95,186.69 399.46,184.73 397.89,183.44 399.92,183.33" fill="#9a9a9a" stroke="#8c8c8c" stroke-width="0.5"/>
<polygon points="409.7,181.9 410.43,183.79 412.46,183.9 410.89,185.19 411.4,187.15 409.7,186.05 408,187.15 408.51,185.19 406.94,183.9 408.97,183.79" fill="#9a9a9a" stroke="#8c8c8c" stroke-width="0.5"/>
<polyline points="355.4,184.5 364.45,184.5 373.5,172.05 382.55,155.46 391.6,139.32 400.65,141.63 409.7,139.32" fill="none" stroke="#f0b000" stroke-width="1.4" stroke-linejoin="round"/>
<polygon points="353.1,182.9 357.7,182.9 355.4,187.1" fill="none" stroke="#f0b000" stroke-width="1.25"/>
<polygon points="362.15,182.9 366.75,182.9 364.45,187.1" fill="none" stroke="#f0b000" stroke-width="1.25"/>
<polygon points="371.2,170.45 375.8,170.45 373.5,174.65" fill="none" stroke="#f0b000" stroke-width="1.25"/>
<polygon points="380.25,153.86 384.85,153.86 382.55,158.06" fill="none" stroke="#f0b000" stroke-width="1.25"/>
<polygon points="389.3,137.72 393.9,137.72 391.6,141.92" fill="none" stroke="#f0b000" stroke-width="1.25"/>
<polygon points="398.35,140.03 402.95,140.03 400.65,144.23" fill="none" stroke="#f0b000" stroke-width="1.25"/>
<polygon points="407.4,137.72 412,137.72 409.7,141.92" fill="none" stroke="#f0b000" stroke-width="1.25"/>
<path d="M45.4 198.7V246.8H108.6" fill="none" stroke="#9a9a9a" stroke-width="0.9"/>
<path d="M45.4 246.3H47.3" stroke="#808080" stroke-width="1.3"/>
<path d="M45.4 223.65H47.3" stroke="#808080" stroke-width="1.3"/>
<path d="M45.4 201H47.3" stroke="#808080" stroke-width="1.3"/>
<path d="M49.9 246.8V245" stroke="#808080" stroke-width="1.2"/>
<path d="M58.95 246.8V245" stroke="#808080" stroke-width="1.2"/>
<path d="M68 246.8V245" stroke="#808080" stroke-width="1.2"/>
<path d="M77.05 246.8V245" stroke="#808080" stroke-width="1.2"/>
<path d="M86.1 246.8V245" stroke="#808080" stroke-width="1.2"/>
<path d="M95.15 246.8V245" stroke="#808080" stroke-width="1.2"/>
<path d="M104.2 246.8V245" stroke="#808080" stroke-width="1.2"/>
<text x="43.1" y="249.5" text-anchor="end" class="tk">0</text>
<text x="43.1" y="226.85" text-anchor="end" class="tk">50</text>
<text x="43.1" y="204.2" text-anchor="end" class="tk">100</text>
<polyline points="49.9,201 58.95,201 68,201 77.05,201 86.1,201 95.15,201 104.2,205.53" fill="none" stroke="#000" stroke-width="1.6" stroke-linejoin="round"/>
<circle cx="49.9" cy="201" r="2.1" fill="#000"/>
<circle cx="58.95" cy="201" r="2.1" fill="#000"/>
<circle cx="68" cy="201" r="2.1" fill="#000"/>
<circle cx="77.05" cy="201" r="2.1" fill="#000"/>
<circle cx="86.1" cy="201" r="2.1" fill="#000"/>
<circle cx="95.15" cy="201" r="2.1" fill="#000"/>
<circle cx="104.2" cy="205.53" r="2.1" fill="#000"/>
<polyline points="49.9,201 58.95,201 68,201 77.05,208.25 86.1,216.86 95.15,222.29 104.2,204.62" fill="none" stroke="#5e5e5e" stroke-width="1.2" stroke-linejoin="round"/>
<polygon points="49.9,198.9 51.05,201 49.9,203.1 48.75,201" fill="#5e5e5e" stroke="#5e5e5e" stroke-width="0.5"/>
<polygon points="58.95,198.9 60.1,201 58.95,203.1 57.8,201" fill="#5e5e5e" stroke="#5e5e5e" stroke-width="0.5"/>
<polygon points="68,198.9 69.15,201 68,203.1 66.85,201" fill="#5e5e5e" stroke="#5e5e5e" stroke-width="0.5"/>
<polygon points="77.05,206.15 78.2,208.25 77.05,210.35 75.9,208.25" fill="#5e5e5e" stroke="#5e5e5e" stroke-width="0.5"/>
<polygon points="86.1,214.76 87.25,216.86 86.1,218.96 84.95,216.86" fill="#5e5e5e" stroke="#5e5e5e" stroke-width="0.5"/>
<polygon points="95.15,220.19 96.3,222.29 95.15,224.39 94,222.29" fill="#5e5e5e" stroke="#5e5e5e" stroke-width="0.5"/>
<polygon points="104.2,202.52 105.35,204.62 104.2,206.72 103.05,204.62" fill="#5e5e5e" stroke="#5e5e5e" stroke-width="0.5"/>
<polyline points="49.9,201 58.95,203.26 68,203.26 77.05,211.87 86.1,226.82 95.15,205.98 104.2,201" fill="none" stroke="#c8c8c8" stroke-width="1.1" stroke-linejoin="round"/>
<polygon points="49.9,198.7 51.7,201 49.9,203.3 48.1,201" fill="#fff" stroke="#c8c8c8" stroke-width="0.8"/>
<polygon points="58.95,200.96 60.75,203.26 58.95,205.56 57.15,203.26" fill="#fff" stroke="#c8c8c8" stroke-width="0.8"/>
<polygon points="68,200.96 69.8,203.26 68,205.56 66.2,203.26" fill="#fff" stroke="#c8c8c8" stroke-width="0.8"/>
<polygon points="77.05,209.57 78.85,211.87 77.05,214.17 75.25,211.87" fill="#fff" stroke="#c8c8c8" stroke-width="0.8"/>
<polygon points="86.1,224.52 87.9,226.82 86.1,229.12 84.3,226.82" fill="#fff" stroke="#c8c8c8" stroke-width="0.8"/>
<polygon points="95.15,203.68 96.95,205.98 95.15,208.28 93.35,205.98" fill="#fff" stroke="#c8c8c8" stroke-width="0.8"/>
<polygon points="104.2,198.7 106,201 104.2,203.3 102.4,201" fill="#fff" stroke="#c8c8c8" stroke-width="0.8"/>
<path d="M121.3 198.7V246.8H184.5" fill="none" stroke="#9a9a9a" stroke-width="0.9"/>
<path d="M121.3 246.3H123.2" stroke="#808080" stroke-width="1.3"/>
<path d="M121.3 223.65H123.2" stroke="#808080" stroke-width="1.3"/>
<path d="M121.3 201H123.2" stroke="#808080" stroke-width="1.3"/>
<path d="M125.8 246.8V245" stroke="#808080" stroke-width="1.2"/>
<path d="M134.85 246.8V245" stroke="#808080" stroke-width="1.2"/>
<path d="M143.9 246.8V245" stroke="#808080" stroke-width="1.2"/>
<path d="M152.95 246.8V245" stroke="#808080" stroke-width="1.2"/>
<path d="M162 246.8V245" stroke="#808080" stroke-width="1.2"/>
<path d="M171.05 246.8V245" stroke="#808080" stroke-width="1.2"/>
<path d="M180.1 246.8V245" stroke="#808080" stroke-width="1.2"/>
<polyline points="134.85,201 143.9,201 152.95,201 162,201 171.05,201 180.1,201" fill="none" stroke="#000" stroke-width="1.6" stroke-linejoin="round"/>
<circle cx="134.85" cy="201" r="2.1" fill="#000"/>
<circle cx="143.9" cy="201" r="2.1" fill="#000"/>
<circle cx="152.95" cy="201" r="2.1" fill="#000"/>
<circle cx="162" cy="201" r="2.1" fill="#000"/>
<circle cx="171.05" cy="201" r="2.1" fill="#000"/>
<circle cx="180.1" cy="201" r="2.1" fill="#000"/>
<polyline points="125.8,201 134.85,201 143.9,202.36 152.95,219.57 162,233.16 171.05,239.5 180.1,239.5" fill="none" stroke="#5e5e5e" stroke-width="1.2" stroke-linejoin="round"/>
<polygon points="125.8,198.9 126.95,201 125.8,203.1 124.65,201" fill="#5e5e5e" stroke="#5e5e5e" stroke-width="0.5"/>
<polygon points="134.85,198.9 136,201 134.85,203.1 133.7,201" fill="#5e5e5e" stroke="#5e5e5e" stroke-width="0.5"/>
<polygon points="143.9,200.26 145.05,202.36 143.9,204.46 142.75,202.36" fill="#5e5e5e" stroke="#5e5e5e" stroke-width="0.5"/>
<polygon points="152.95,217.47 154.1,219.57 152.95,221.67 151.8,219.57" fill="#5e5e5e" stroke="#5e5e5e" stroke-width="0.5"/>
<polygon points="162,231.06 163.15,233.16 162,235.26 160.85,233.16" fill="#5e5e5e" stroke="#5e5e5e" stroke-width="0.5"/>
<polygon points="171.05,237.41 172.2,239.5 171.05,241.6 169.9,239.5" fill="#5e5e5e" stroke="#5e5e5e" stroke-width="0.5"/>
<polygon points="180.1,237.41 181.25,239.5 180.1,241.6 178.95,239.5" fill="#5e5e5e" stroke="#5e5e5e" stroke-width="0.5"/>
<polyline points="125.8,201 134.85,201 143.9,202.36 152.95,205.53 162,221.84 171.05,246.3 180.1,241.77" fill="none" stroke="#c8c8c8" stroke-width="1.1" stroke-linejoin="round"/>
<polygon points="125.8,198.7 127.6,201 125.8,203.3 124,201" fill="#fff" stroke="#c8c8c8" stroke-width="0.8"/>
<polygon points="134.85,198.7 136.65,201 134.85,203.3 133.05,201" fill="#fff" stroke="#c8c8c8" stroke-width="0.8"/>
<polygon points="143.9,200.06 145.7,202.36 143.9,204.66 142.1,202.36" fill="#fff" stroke="#c8c8c8" stroke-width="0.8"/>
<polygon points="152.95,203.23 154.75,205.53 152.95,207.83 151.15,205.53" fill="#fff" stroke="#c8c8c8" stroke-width="0.8"/>
<polygon points="162,219.54 163.8,221.84 162,224.14 160.2,221.84" fill="#fff" stroke="#c8c8c8" stroke-width="0.8"/>
<polygon points="171.05,244 172.85,246.3 171.05,248.6 169.25,246.3" fill="#fff" stroke="#c8c8c8" stroke-width="0.8"/>
<polygon points="180.1,239.47 181.9,241.77 180.1,244.07 178.3,241.77" fill="#fff" stroke="#c8c8c8" stroke-width="0.8"/>
<path d="M197.7 198.7V246.8H260.9" fill="none" stroke="#9a9a9a" stroke-width="0.9"/>
<path d="M197.7 246.3H199.6" stroke="#808080" stroke-width="1.3"/>
<path d="M197.7 223.65H199.6" stroke="#808080" stroke-width="1.3"/>
<path d="M197.7 201H199.6" stroke="#808080" stroke-width="1.3"/>
<path d="M202.2 246.8V245" stroke="#808080" stroke-width="1.2"/>
<path d="M211.25 246.8V245" stroke="#808080" stroke-width="1.2"/>
<path d="M220.3 246.8V245" stroke="#808080" stroke-width="1.2"/>
<path d="M229.35 246.8V245" stroke="#808080" stroke-width="1.2"/>
<path d="M238.4 246.8V245" stroke="#808080" stroke-width="1.2"/>
<path d="M247.45 246.8V245" stroke="#808080" stroke-width="1.2"/>
<path d="M256.5 246.8V245" stroke="#808080" stroke-width="1.2"/>
<polyline points="202.2,201 211.25,201 220.3,201 229.35,201 238.4,201 247.45,201 256.5,201" fill="none" stroke="#000" stroke-width="1.6" stroke-linejoin="round"/>
<circle cx="202.2" cy="201" r="2.1" fill="#000"/>
<circle cx="211.25" cy="201" r="2.1" fill="#000"/>
<circle cx="220.3" cy="201" r="2.1" fill="#000"/>
<circle cx="229.35" cy="201" r="2.1" fill="#000"/>
<circle cx="238.4" cy="201" r="2.1" fill="#000"/>
<circle cx="247.45" cy="201" r="2.1" fill="#000"/>
<circle cx="256.5" cy="201" r="2.1" fill="#000"/>
<polyline points="202.2,201 211.25,203.72 220.3,203.72 229.35,207.8 238.4,217.31 247.45,208.25 256.5,212.78" fill="none" stroke="#5e5e5e" stroke-width="1.2" stroke-linejoin="round"/>
<polygon points="202.2,198.9 203.35,201 202.2,203.1 201.05,201" fill="#5e5e5e" stroke="#5e5e5e" stroke-width="0.5"/>
<polygon points="211.25,201.62 212.4,203.72 211.25,205.82 210.1,203.72" fill="#5e5e5e" stroke="#5e5e5e" stroke-width="0.5"/>
<polygon points="220.3,201.62 221.45,203.72 220.3,205.82 219.15,203.72" fill="#5e5e5e" stroke="#5e5e5e" stroke-width="0.5"/>
<polygon points="229.35,205.7 230.5,207.8 229.35,209.9 228.2,207.8" fill="#5e5e5e" stroke="#5e5e5e" stroke-width="0.5"/>
<polygon points="238.4,215.21 239.55,217.31 238.4,219.41 237.25,217.31" fill="#5e5e5e" stroke="#5e5e5e" stroke-width="0.5"/>
<polygon points="247.45,206.15 248.6,208.25 247.45,210.35 246.3,208.25" fill="#5e5e5e" stroke="#5e5e5e" stroke-width="0.5"/>
<polygon points="256.5,210.68 257.65,212.78 256.5,214.88 255.35,212.78" fill="#5e5e5e" stroke="#5e5e5e" stroke-width="0.5"/>
<polyline points="202.2,201 211.25,201 220.3,201 229.35,207.8 238.4,211.87 247.45,219.12 256.5,219.12" fill="none" stroke="#c8c8c8" stroke-width="1.1" stroke-linejoin="round"/>
<polygon points="202.2,198.7 204,201 202.2,203.3 200.4,201" fill="#fff" stroke="#c8c8c8" stroke-width="0.8"/>
<polygon points="211.25,198.7 213.05,201 211.25,203.3 209.45,201" fill="#fff" stroke="#c8c8c8" stroke-width="0.8"/>
<polygon points="220.3,198.7 222.1,201 220.3,203.3 218.5,201" fill="#fff" stroke="#c8c8c8" stroke-width="0.8"/>
<polygon points="229.35,205.5 231.15,207.8 229.35,210.1 227.55,207.8" fill="#fff" stroke="#c8c8c8" stroke-width="0.8"/>
<polygon points="238.4,209.57 240.2,211.87 238.4,214.17 236.6,211.87" fill="#fff" stroke="#c8c8c8" stroke-width="0.8"/>
<polygon points="247.45,216.82 249.25,219.12 247.45,221.42 245.65,219.12" fill="#fff" stroke="#c8c8c8" stroke-width="0.8"/>
<polygon points="256.5,216.82 258.3,219.12 256.5,221.42 254.7,219.12" fill="#fff" stroke="#c8c8c8" stroke-width="0.8"/>
<path d="M274.8 198.7V246.8H338" fill="none" stroke="#9a9a9a" stroke-width="0.9"/>
<path d="M274.8 246.3H276.7" stroke="#808080" stroke-width="1.3"/>
<path d="M274.8 223.65H276.7" stroke="#808080" stroke-width="1.3"/>
<path d="M274.8 201H276.7" stroke="#808080" stroke-width="1.3"/>
<path d="M279.3 246.8V245" stroke="#808080" stroke-width="1.2"/>
<path d="M288.35 246.8V245" stroke="#808080" stroke-width="1.2"/>
<path d="M297.4 246.8V245" stroke="#808080" stroke-width="1.2"/>
<path d="M306.45 246.8V245" stroke="#808080" stroke-width="1.2"/>
<path d="M315.5 246.8V245" stroke="#808080" stroke-width="1.2"/>
<path d="M324.55 246.8V245" stroke="#808080" stroke-width="1.2"/>
<path d="M333.6 246.8V245" stroke="#808080" stroke-width="1.2"/>
<polyline points="279.3,201 288.35,201 297.4,201 306.45,201 315.5,201 324.55,201 333.6,201" fill="none" stroke="#000" stroke-width="1.6" stroke-linejoin="round"/>
<circle cx="279.3" cy="201" r="2.1" fill="#000"/>
<circle cx="288.35" cy="201" r="2.1" fill="#000"/>
<circle cx="297.4" cy="201" r="2.1" fill="#000"/>
<circle cx="306.45" cy="201" r="2.1" fill="#000"/>
<circle cx="315.5" cy="201" r="2.1" fill="#000"/>
<circle cx="324.55" cy="201" r="2.1" fill="#000"/>
<circle cx="333.6" cy="201" r="2.1" fill="#000"/>
<polyline points="279.3,201 288.35,203.72 297.4,208.25 306.45,208.25 315.5,210.06 324.55,223.65 333.6,228.63" fill="none" stroke="#5e5e5e" stroke-width="1.2" stroke-linejoin="round"/>
<polygon points="279.3,198.9 280.45,201 279.3,203.1 278.15,201" fill="#5e5e5e" stroke="#5e5e5e" stroke-width="0.5"/>
<polygon points="288.35,201.62 289.5,203.72 288.35,205.82 287.2,203.72" fill="#5e5e5e" stroke="#5e5e5e" stroke-width="0.5"/>
<polygon points="297.4,206.15 298.55,208.25 297.4,210.35 296.25,208.25" fill="#5e5e5e" stroke="#5e5e5e" stroke-width="0.5"/>
<polygon points="306.45,206.15 307.6,208.25 306.45,210.35 305.3,208.25" fill="#5e5e5e" stroke="#5e5e5e" stroke-width="0.5"/>
<polygon points="315.5,207.96 316.65,210.06 315.5,212.16 314.35,210.06" fill="#5e5e5e" stroke="#5e5e5e" stroke-width="0.5"/>
<polygon points="324.55,221.55 325.7,223.65 324.55,225.75 323.4,223.65" fill="#5e5e5e" stroke="#5e5e5e" stroke-width="0.5"/>
<polygon points="333.6,226.53 334.75,228.63 333.6,230.73 332.45,228.63" fill="#5e5e5e" stroke="#5e5e5e" stroke-width="0.5"/>
<polyline points="279.3,201 288.35,201.23 297.4,205.08 306.45,203.72 315.5,203.26 324.55,201 333.6,205.53" fill="none" stroke="#c8c8c8" stroke-width="1.1" stroke-linejoin="round"/>
<polygon points="279.3,198.7 281.1,201 279.3,203.3 277.5,201" fill="#fff" stroke="#c8c8c8" stroke-width="0.8"/>
<polygon points="288.35,198.93 290.15,201.23 288.35,203.53 286.55,201.23" fill="#fff" stroke="#c8c8c8" stroke-width="0.8"/>
<polygon points="297.4,202.78 299.2,205.08 297.4,207.38 295.6,205.08" fill="#fff" stroke="#c8c8c8" stroke-width="0.8"/>
<polygon points="306.45,201.42 308.25,203.72 306.45,206.02 304.65,203.72" fill="#fff" stroke="#c8c8c8" stroke-width="0.8"/>
<polygon points="315.5,200.96 317.3,203.26 315.5,205.56 313.7,203.26" fill="#fff" stroke="#c8c8c8" stroke-width="0.8"/>
<polygon points="324.55,198.7 326.35,201 324.55,203.3 322.75,201" fill="#fff" stroke="#c8c8c8" stroke-width="0.8"/>
<polygon points="333.6,203.23 335.4,205.53 333.6,207.83 331.8,205.53" fill="#fff" stroke="#c8c8c8" stroke-width="0.8"/>
<path d="M350.9 198.7V246.8H414.1" fill="none" stroke="#9a9a9a" stroke-width="0.9"/>
<path d="M350.9 246.3H352.8" stroke="#808080" stroke-width="1.3"/>
<path d="M350.9 223.65H352.8" stroke="#808080" stroke-width="1.3"/>
<path d="M350.9 201H352.8" stroke="#808080" stroke-width="1.3"/>
<path d="M355.4 246.8V245" stroke="#808080" stroke-width="1.2"/>
<path d="M364.45 246.8V245" stroke="#808080" stroke-width="1.2"/>
<path d="M373.5 246.8V245" stroke="#808080" stroke-width="1.2"/>
<path d="M382.55 246.8V245" stroke="#808080" stroke-width="1.2"/>
<path d="M391.6 246.8V245" stroke="#808080" stroke-width="1.2"/>
<path d="M400.65 246.8V245" stroke="#808080" stroke-width="1.2"/>
<path d="M409.7 246.8V245" stroke="#808080" stroke-width="1.2"/>
<polyline points="355.4,205.98 364.45,201.45 373.5,201 382.55,203.72 391.6,201.45 400.65,201.45 409.7,204.62" fill="none" stroke="#000" stroke-width="1.6" stroke-linejoin="round"/>
<circle cx="355.4" cy="205.98" r="2.1" fill="#000"/>
<circle cx="364.45" cy="201.45" r="2.1" fill="#000"/>
<circle cx="373.5" cy="201" r="2.1" fill="#000"/>
<circle cx="382.55" cy="203.72" r="2.1" fill="#000"/>
<circle cx="391.6" cy="201.45" r="2.1" fill="#000"/>
<circle cx="400.65" cy="201.45" r="2.1" fill="#000"/>
<circle cx="409.7" cy="204.62" r="2.1" fill="#000"/>
<polyline points="355.4,204.62 364.45,208.25 373.5,206.89 382.55,203.72 391.6,201.45 400.65,201.45 409.7,203.72" fill="none" stroke="#5e5e5e" stroke-width="1.2" stroke-linejoin="round"/>
<polygon points="355.4,202.52 356.55,204.62 355.4,206.72 354.25,204.62" fill="#5e5e5e" stroke="#5e5e5e" stroke-width="0.5"/>
<polygon points="364.45,206.15 365.6,208.25 364.45,210.35 363.3,208.25" fill="#5e5e5e" stroke="#5e5e5e" stroke-width="0.5"/>
<polygon points="373.5,204.79 374.65,206.89 373.5,208.99 372.35,206.89" fill="#5e5e5e" stroke="#5e5e5e" stroke-width="0.5"/>
<polygon points="382.55,201.62 383.7,203.72 382.55,205.82 381.4,203.72" fill="#5e5e5e" stroke="#5e5e5e" stroke-width="0.5"/>
<polygon points="391.6,199.35 392.75,201.45 391.6,203.55 390.45,201.45" fill="#5e5e5e" stroke="#5e5e5e" stroke-width="0.5"/>
<polygon points="400.65,199.35 401.8,201.45 400.65,203.55 399.5,201.45" fill="#5e5e5e" stroke="#5e5e5e" stroke-width="0.5"/>
<polygon points="409.7,201.62 410.85,203.72 409.7,205.82 408.55,203.72" fill="#5e5e5e" stroke="#5e5e5e" stroke-width="0.5"/>
<polyline points="355.4,201 364.45,201 373.5,205.98 382.55,203.26 391.6,201.45 400.65,201.45 409.7,201.45" fill="none" stroke="#c8c8c8" stroke-width="1.1" stroke-linejoin="round"/>
<polygon points="355.4,198.7 357.2,201 355.4,203.3 353.6,201" fill="#fff" stroke="#c8c8c8" stroke-width="0.8"/>
<polygon points="364.45,198.7 366.25,201 364.45,203.3 362.65,201" fill="#fff" stroke="#c8c8c8" stroke-width="0.8"/>
<polygon points="373.5,203.68 375.3,205.98 373.5,208.28 371.7,205.98" fill="#fff" stroke="#c8c8c8" stroke-width="0.8"/>
<polygon points="382.55,200.96 384.35,203.26 382.55,205.56 380.75,203.26" fill="#fff" stroke="#c8c8c8" stroke-width="0.8"/>
<polygon points="391.6,199.15 393.4,201.45 391.6,203.75 389.8,201.45" fill="#fff" stroke="#c8c8c8" stroke-width="0.8"/>
<polygon points="400.65,199.15 402.45,201.45 400.65,203.75 398.85,201.45" fill="#fff" stroke="#c8c8c8" stroke-width="0.8"/>
<polygon points="409.7,199.15 411.5,201.45 409.7,203.75 407.9,201.45" fill="#fff" stroke="#c8c8c8" stroke-width="0.8"/>
<text x="51.4" y="256.9" text-anchor="middle" class="tk">1</text>
<text x="60.45" y="256.9" text-anchor="middle" class="tk">2</text>
<text x="69.5" y="256.9" text-anchor="middle" class="tk">3</text>
<text x="78.55" y="256.9" text-anchor="middle" class="tk">4</text>
<text x="87.6" y="256.9" text-anchor="middle" class="tk">5</text>
<text x="96.65" y="256.9" text-anchor="middle" class="tk">6</text>
<text x="105.7" y="256.9" text-anchor="middle" class="tk">7</text>
<text x="127.3" y="256.9" text-anchor="middle" class="tk">1</text>
<text x="136.35" y="256.9" text-anchor="middle" class="tk">2</text>
<text x="145.4" y="256.9" text-anchor="middle" class="tk">3</text>
<text x="154.45" y="256.9" text-anchor="middle" class="tk">4</text>
<text x="163.5" y="256.9" text-anchor="middle" class="tk">5</text>
<text x="172.55" y="256.9" text-anchor="middle" class="tk">6</text>
<text x="181.6" y="256.9" text-anchor="middle" class="tk">7</text>
<text x="203.7" y="256.9" text-anchor="middle" class="tk">1</text>
<text x="212.75" y="256.9" text-anchor="middle" class="tk">2</text>
<text x="221.8" y="256.9" text-anchor="middle" class="tk">3</text>
<text x="230.85" y="256.9" text-anchor="middle" class="tk">4</text>
<text x="239.9" y="256.9" text-anchor="middle" class="tk">5</text>
<text x="248.95" y="256.9" text-anchor="middle" class="tk">6</text>
<text x="258" y="256.9" text-anchor="middle" class="tk">7</text>
<text x="280.8" y="256.9" text-anchor="middle" class="tk">1</text>
<text x="289.85" y="256.9" text-anchor="middle" class="tk">2</text>
<text x="298.9" y="256.9" text-anchor="middle" class="tk">3</text>
<text x="307.95" y="256.9" text-anchor="middle" class="tk">4</text>
<text x="317" y="256.9" text-anchor="middle" class="tk">5</text>
<text x="326.05" y="256.9" text-anchor="middle" class="tk">6</text>
<text x="335.1" y="256.9" text-anchor="middle" class="tk">7</text>
<text x="356.9" y="256.9" text-anchor="middle" class="tk">1</text>
<text x="365.95" y="256.9" text-anchor="middle" class="tk">2</text>
<text x="375" y="256.9" text-anchor="middle" class="tk">3</text>
<text x="384.05" y="256.9" text-anchor="middle" class="tk">4</text>
<text x="393.1" y="256.9" text-anchor="middle" class="tk">5</text>
<text x="402.15" y="256.9" text-anchor="middle" class="tk">6</text>
<text x="411.2" y="256.9" text-anchor="middle" class="tk">7</text>
<text transform="translate(49,2.6) scale(1,1.8)" class="ttl" fill="#4f9a1e">IH</text>
<text transform="translate(90.5,2.6) scale(1,1.8)" class="ttl" fill="#1a55c8">AE</text>
<text transform="translate(122,2.6) scale(1,1.8)" class="ttl" fill="#4f9a1e">IH</text>
<text transform="translate(165.6,2.6) scale(1,1.8)" class="ttl" fill="#b0102f">AH</text>
<text transform="translate(196.8,2.6) scale(1,1.8)" class="ttl" fill="#1a55c8">AE</text>
<text transform="translate(240.8,2.6) scale(1,1.8)" class="ttl" fill="#b0102f">AH</text>
<text transform="translate(275.2,2.6) scale(1,1.8)" class="ttl" fill="#1a55c8">AE</text>
<text transform="translate(317.4,2.6) scale(1,1.8)" class="ttl" fill="#f0a800">OO</text>
<text transform="translate(352.2,2.6) scale(1,1.8)" class="ttl" fill="#b0102f">AH</text>
<text transform="translate(395.7,2.6) scale(1,1.8)" class="ttl" fill="#f0a800">OO</text>
<text x="0.5" y="7.4" class="rl">Intense</text>
<rect x="36.2" y="0" width="1.8" height="1.1" fill="#333"/>
<text transform="translate(12.3,38.7) rotate(-90)" text-anchor="middle" class="rl">Dichotic</text>
<text transform="translate(8.6,96.6) rotate(-90)" text-anchor="middle" class="rl">Monaural,</text>
<text transform="translate(17.2,96.6) rotate(-90)" text-anchor="middle" class="rl">Left</text>
<text transform="translate(8.0,156.4) rotate(-90)" text-anchor="middle" class="rl">Monaural,</text>
<text transform="translate(16.8,156.4) rotate(-90)" text-anchor="middle" class="rl">Right</text>
<text transform="translate(14.0,221.5) rotate(-90)" text-anchor="middle" class="rl">Fused Trials</text>
<text transform="translate(25.0,224) rotate(-90)" text-anchor="middle" class="yl">Percent(%)</text>
<rect x="416.7" y="56.6" width="30.5" height="72.8" fill="#fff" stroke="#8a8a8a" stroke-width="0.7"/>
<path d="M416.7 66.8H447.2" stroke="#8a8a8a" stroke-width="0.7"/>
<text x="432.2" y="64.4" text-anchor="middle" class="lt">Response</text>
<path d="M419 72.6H435.8" stroke="#6aa823" stroke-width="1.2"/>
<circle cx="427.5" cy="72.6" r="1.72" fill="none" stroke="#6aa823" stroke-width="1.2"/>
<text x="437.6" y="74.5" class="lg">IH</text>
<path d="M419 81.22H435.8" stroke="#3fb9ee" stroke-width="1.2"/>
<rect x="426.02" y="79.74" width="2.96" height="2.96" fill="none" stroke="#3fb9ee" stroke-width="1.2"/>
<text x="437.6" y="83.12" class="lg">EH</text>
<path d="M419 89.84H435.8" stroke="#0068c4" stroke-width="1.2"/>
<polygon points="426.22,88 429.58,89.84 426.22,91.68" fill="#0068c4" stroke="#0068c4" stroke-width="1.2"/>
<text x="437.6" y="91.74" class="lg">AE</text>
<path d="M419 98.46H435.8" stroke="#a20f2c" stroke-width="1.2"/>
<polygon points="428.78,96.62 425.42,98.46 428.78,100.3" fill="none" stroke="#a20f2c" stroke-width="1.2"/>
<text x="437.6" y="100.36" class="lg">AH</text>
<path d="M419 107.08H435.8" stroke="#e04f10" stroke-width="1.2"/>
<polygon points="427.5,104.84 429.18,107.08 427.5,109.32 425.82,107.08" fill="none" stroke="#e04f10" stroke-width="1.2"/>
<text x="437.6" y="108.98" class="lg">UH</text>
<path d="M419 115.7H435.8" stroke="#8c8c8c" stroke-width="1.2"/>
<polygon points="427.5,113.62 428.09,115.13 429.71,115.22 428.45,116.25 428.86,117.82 427.5,116.94 426.14,117.82 426.55,116.25 425.29,115.22 426.91,115.13" fill="#9a9a9a" stroke="#8c8c8c" stroke-width="0.5"/>
<text x="437.6" y="117.6" class="lg">SH</text>
<path d="M419 124.32H435.8" stroke="#f0b000" stroke-width="1.2"/>
<polygon points="425.66,123.04 429.34,123.04 427.5,126.4" fill="none" stroke="#f0b000" stroke-width="1.2"/>
<text x="437.6" y="126.22" class="lg">OO</text>
<rect x="365.3" y="216.4" width="60.1" height="25.2" fill="#fff" stroke="#8a8a8a" stroke-width="0.7"/>
<path d="M367.8 221.6H387.4" stroke="#000" stroke-width="1.6"/>
<circle cx="377.6" cy="221.6" r="2.1" fill="#000"/>
<text x="389.3" y="223.8" class="l2">Dichotic</text>
<path d="M367.8 229.2H387.4" stroke="#666666" stroke-width="1.4"/>
<polygon points="378.2,227.1 379.35,229.2 378.2,231.3 377.05,229.2" fill="#666666" stroke="#666666" stroke-width="0.5"/>
<text x="389.3" y="231.4" class="l2">Mono, Left</text>
<path d="M367.8 236.9H387.4" stroke="#c8c8c8" stroke-width="1.5"/>
<polygon points="378.2,234.6 380,236.9 378.2,239.2 376.4,236.9" fill="#fff" stroke="#c8c8c8" stroke-width="0.8"/>
<text x="389.3" y="239.1" class="l2">Mono, Right</text>
</svg>
</body></html>
